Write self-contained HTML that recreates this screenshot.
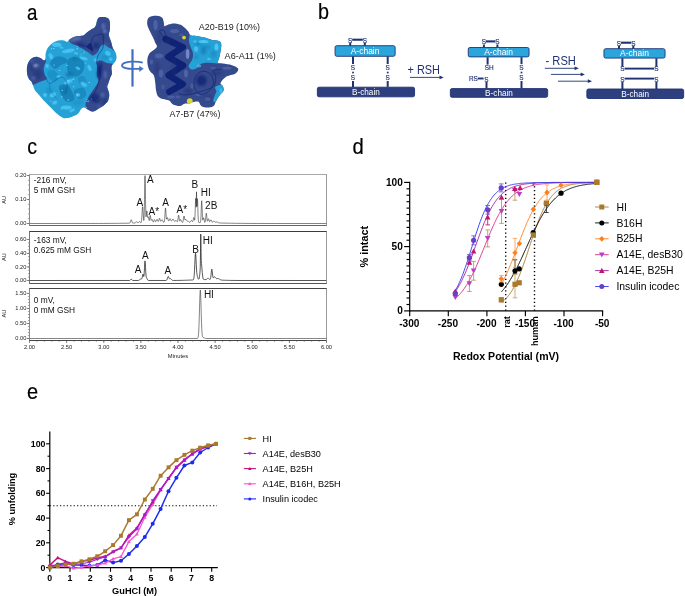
<!DOCTYPE html>
<html lang="en"><head><meta charset="utf-8"><title>Figure</title>
<style>
html,body{margin:0;padding:0;background:#fff;}
body{width:685px;height:596px;overflow:hidden;}
svg{display:block;}
text{font-family:"Liberation Sans", Arial, sans-serif;}
.pl{font-size:21.3px;fill:#000;stroke:#000;stroke-width:0.2px;}
.lab{font-size:9.2px;fill:#1c1c1c;}
.ch{font-size:8.2px;fill:#fff;text-anchor:middle;}
.ss{font-size:6.4px;fill:#1f3272;text-anchor:middle;stroke:#1f3272;stroke-width:0.15px;}
.rsh{font-size:13px;fill:#1f3272;}
.ct{font-size:5.7px;fill:#1c1c1c;}
.cl{font-size:8.35px;fill:#111;}
.cp{font-size:10px;fill:#111;text-anchor:middle;}
.bt{font-size:10.1px;font-weight:bold;fill:#000;}
.bl{font-size:9.6px;font-weight:bold;fill:#000;}
.lg{font-size:10.4px;fill:#000;}
</style></head><body>
<svg width="685" height="596" viewBox="0 0 685 596">
<defs>
<filter id="bl1" x="-100%" y="-100%" width="300%" height="300%"><feGaussianBlur stdDeviation="0.9"/></filter>
<filter id="bl2" x="-20%" y="-20%" width="140%" height="140%"><feGaussianBlur stdDeviation="2.2"/></filter>
<filter id="bl3" x="-100%" y="-100%" width="300%" height="300%"><feGaussianBlur stdDeviation="1.3"/></filter>
<filter id="bl06" x="-50%" y="-50%" width="200%" height="200%"><feGaussianBlur stdDeviation="0.6"/></filter>
<filter id="bl05" x="-30%" y="-30%" width="160%" height="160%"><feGaussianBlur stdDeviation="0.45"/></filter>
</defs>
<rect width="685" height="596" fill="#fff"/>

<text class="pl" transform="translate(27.1,19.5) scale(0.88,1)">a</text>
<text class="pl" transform="translate(317.9,18.7) scale(0.93,1)">b</text>
<text class="pl" transform="translate(27.2,154.0) scale(0.92,1)">c</text>
<text class="pl" transform="translate(352.5,153.9) scale(0.95,1)">d</text>
<text class="pl" transform="translate(27.1,399.4) scale(0.94,1)">e</text>
<g id="blobL">
<clipPath id="clipL"><path d="M96.8,21.6 C97.2,20.5 97.7,18.5 98.7,17.7 C99.8,16.9 101.5,16.9 103.0,16.9 C104.5,17.0 106.7,17.3 107.8,18.1 C108.9,18.9 109.4,20.1 109.8,22.0 C110.1,23.8 110.1,27.1 109.9,29.3 C109.8,31.5 108.6,33.0 108.8,35.1 C109.0,37.2 110.4,39.6 111.1,41.8 C111.8,44.1 112.2,46.7 113.0,48.6 C113.8,50.5 115.3,51.8 115.9,53.4 C116.5,55.0 116.7,56.8 116.5,58.3 C116.3,59.7 115.7,60.9 115.0,62.1 C114.2,63.3 112.5,64.3 111.9,65.4 C111.3,66.5 111.5,67.5 111.5,68.9 C111.5,70.3 112.1,72.2 111.9,73.7 C111.7,75.1 111.0,75.8 110.3,77.6 C109.7,79.3 108.5,82.7 108.0,84.3 C107.5,85.9 107.1,85.9 107.2,87.2 C107.4,88.5 108.5,90.6 108.8,92.0 C109.1,93.5 109.3,94.4 109.2,95.9 C109.0,97.3 108.6,99.5 108.0,100.7 C107.5,101.9 106.7,102.4 105.9,103.2 C105.1,104.1 104.0,105.2 103.0,105.9 C102.0,106.7 100.9,107.1 99.7,107.9 C98.5,108.6 96.9,109.8 95.7,110.4 C94.4,111.0 93.4,111.7 92.0,111.5 C90.6,111.3 88.7,109.9 87.4,109.2 C86.0,108.5 84.8,107.4 83.7,107.5 C82.6,107.5 81.8,108.3 80.8,109.4 C79.8,110.5 79.4,112.6 77.9,113.8 C76.5,115.1 73.9,116.0 72.1,116.7 C70.3,117.4 68.8,117.9 67.3,118.1 C65.7,118.2 64.5,118.3 62.8,117.7 C61.2,117.1 59.1,115.4 57.6,114.2 C56.1,113.1 54.9,111.9 53.8,110.8 C52.6,109.6 51.8,108.6 50.7,107.5 C49.6,106.3 48.3,105.1 47.0,103.8 C45.7,102.5 44.3,101.2 43.0,99.8 C41.7,98.3 40.6,96.8 39.3,95.3 C38.0,93.8 36.3,92.3 35.2,90.7 C34.2,89.1 33.7,87.1 33.1,85.7 C32.5,84.2 32.3,83.0 31.6,81.8 C30.8,80.6 29.4,79.9 28.7,78.5 C27.9,77.2 27.4,75.5 27.1,73.7 C26.9,71.9 26.8,69.7 26.9,67.9 C27.1,66.1 27.5,64.5 28.1,63.1 C28.7,61.6 29.7,60.2 30.6,59.2 C31.6,58.3 32.8,57.7 33.9,57.3 C35.0,56.9 36.2,56.7 37.4,56.9 C38.5,57.1 39.7,57.6 40.8,58.3 C42.0,58.9 43.4,60.6 44.1,60.6 C44.9,60.6 45.2,59.4 45.5,58.3 C45.7,57.1 45.3,55.0 45.7,53.4 C46.0,51.8 46.6,50.1 47.4,48.6 C48.2,47.2 49.3,45.9 50.5,44.7 C51.7,43.6 53.2,42.6 54.7,41.8 C56.3,41.1 58.0,40.5 59.6,40.3 C61.1,40.1 62.7,40.2 64.0,40.5 C65.3,40.8 66.3,42.0 67.3,41.8 C68.3,41.7 68.7,40.1 69.8,39.3 C70.9,38.5 72.5,37.6 74.0,37.0 C75.6,36.5 77.3,36.3 78.9,36.1 C80.4,35.8 82.0,36.0 83.3,35.5 C84.6,34.9 85.4,33.7 86.6,32.8 C87.8,31.8 89.2,30.7 90.4,29.9 C91.7,29.0 93.3,28.7 94.3,27.8 C95.3,26.9 95.8,25.5 96.2,24.5 C96.7,23.4 96.4,22.7 96.8,21.6 Z"/></clipPath>
<g filter="url(#bl05)">
<path d="M96.8,21.6 C97.2,20.5 97.7,18.5 98.7,17.7 C99.8,16.9 101.5,16.9 103.0,16.9 C104.5,17.0 106.7,17.3 107.8,18.1 C108.9,18.9 109.4,20.1 109.8,22.0 C110.1,23.8 110.1,27.1 109.9,29.3 C109.8,31.5 108.6,33.0 108.8,35.1 C109.0,37.2 110.4,39.6 111.1,41.8 C111.8,44.1 112.2,46.7 113.0,48.6 C113.8,50.5 115.3,51.8 115.9,53.4 C116.5,55.0 116.7,56.8 116.5,58.3 C116.3,59.7 115.7,60.9 115.0,62.1 C114.2,63.3 112.5,64.3 111.9,65.4 C111.3,66.5 111.5,67.5 111.5,68.9 C111.5,70.3 112.1,72.2 111.9,73.7 C111.7,75.1 111.0,75.8 110.3,77.6 C109.7,79.3 108.5,82.7 108.0,84.3 C107.5,85.9 107.1,85.9 107.2,87.2 C107.4,88.5 108.5,90.6 108.8,92.0 C109.1,93.5 109.3,94.4 109.2,95.9 C109.0,97.3 108.6,99.5 108.0,100.7 C107.5,101.9 106.7,102.4 105.9,103.2 C105.1,104.1 104.0,105.2 103.0,105.9 C102.0,106.7 100.9,107.1 99.7,107.9 C98.5,108.6 96.9,109.8 95.7,110.4 C94.4,111.0 93.4,111.7 92.0,111.5 C90.6,111.3 88.7,109.9 87.4,109.2 C86.0,108.5 84.8,107.4 83.7,107.5 C82.6,107.5 81.8,108.3 80.8,109.4 C79.8,110.5 79.4,112.6 77.9,113.8 C76.5,115.1 73.9,116.0 72.1,116.7 C70.3,117.4 68.8,117.9 67.3,118.1 C65.7,118.2 64.5,118.3 62.8,117.7 C61.2,117.1 59.1,115.4 57.6,114.2 C56.1,113.1 54.9,111.9 53.8,110.8 C52.6,109.6 51.8,108.6 50.7,107.5 C49.6,106.3 48.3,105.1 47.0,103.8 C45.7,102.5 44.3,101.2 43.0,99.8 C41.7,98.3 40.6,96.8 39.3,95.3 C38.0,93.8 36.3,92.3 35.2,90.7 C34.2,89.1 33.7,87.1 33.1,85.7 C32.5,84.2 32.3,83.0 31.6,81.8 C30.8,80.6 29.4,79.9 28.7,78.5 C27.9,77.2 27.4,75.5 27.1,73.7 C26.9,71.9 26.8,69.7 26.9,67.9 C27.1,66.1 27.5,64.5 28.1,63.1 C28.7,61.6 29.7,60.2 30.6,59.2 C31.6,58.3 32.8,57.7 33.9,57.3 C35.0,56.9 36.2,56.7 37.4,56.9 C38.5,57.1 39.7,57.6 40.8,58.3 C42.0,58.9 43.4,60.6 44.1,60.6 C44.9,60.6 45.2,59.4 45.5,58.3 C45.7,57.1 45.3,55.0 45.7,53.4 C46.0,51.8 46.6,50.1 47.4,48.6 C48.2,47.2 49.3,45.9 50.5,44.7 C51.7,43.6 53.2,42.6 54.7,41.8 C56.3,41.1 58.0,40.5 59.6,40.3 C61.1,40.1 62.7,40.2 64.0,40.5 C65.3,40.8 66.3,42.0 67.3,41.8 C68.3,41.7 68.7,40.1 69.8,39.3 C70.9,38.5 72.5,37.6 74.0,37.0 C75.6,36.5 77.3,36.3 78.9,36.1 C80.4,35.8 82.0,36.0 83.3,35.5 C84.6,34.9 85.4,33.7 86.6,32.8 C87.8,31.8 89.2,30.7 90.4,29.9 C91.7,29.0 93.3,28.7 94.3,27.8 C95.3,26.9 95.8,25.5 96.2,24.5 C96.7,23.4 96.4,22.7 96.8,21.6 Z" fill="#26a1d6"/>
<g clip-path="url(#clipL)">
<path d="M66.3,33.2 C68.6,31.0 79.2,31.2 83.7,29.3 C88.2,27.4 91.1,24.2 93.3,21.6 C95.6,19.0 94.0,15.1 97.2,13.9 C100.4,12.6 109.4,10.3 112.6,13.9 C115.9,17.4 115.7,28.8 116.5,35.1 C117.3,41.4 117.7,48.7 117.5,51.5 C117.3,54.3 116.4,52.4 115.3,51.9 C114.3,51.4 112.4,49.4 111.1,48.6 C109.8,47.8 109.1,47.6 107.8,46.9 C106.6,46.2 104.9,44.4 103.6,44.4 C102.3,44.4 101.1,45.6 100.1,46.9 C99.1,48.1 99.0,50.4 97.8,51.9 C96.6,53.3 94.2,55.4 92.8,55.6 C91.4,55.7 91.0,54.2 89.3,53.0 C87.6,51.9 84.8,50.1 82.5,48.8 C80.3,47.5 78.1,46.4 76.0,45.3 C73.9,44.2 71.6,44.3 70.0,42.2 C68.4,40.2 64.0,35.3 66.3,33.2 Z" fill="#35498d"/>
<path d="M96.8,62.1 C97.5,61.1 99.4,60.4 101.1,60.6 C102.7,60.7 104.4,62.3 106.9,63.1 C109.3,63.8 113.8,63.2 115.5,65.0 C117.3,66.8 117.6,70.0 117.5,73.7 C117.3,77.4 115.1,82.7 114.6,87.2 C114.1,91.7 115.5,96.5 114.6,100.7 C113.6,104.9 111.7,109.7 108.8,112.3 C105.9,114.9 100.7,116.3 97.2,116.2 C93.7,116.0 89.9,113.1 87.9,111.3 C86.0,109.6 85.8,107.3 85.6,105.5 C85.4,103.8 85.9,102.5 86.6,100.7 C87.3,98.9 88.6,97.0 89.9,94.9 C91.2,92.8 92.9,90.4 94.3,88.2 C95.7,85.9 97.8,83.8 98.2,81.4 C98.6,79.0 97.0,76.1 96.8,73.7 C96.7,71.3 97.2,68.9 97.2,66.9 C97.2,65.0 96.2,63.2 96.8,62.1 Z" fill="#35498d"/>
<path d="M23.9,77.6 C23.2,75.0 23.2,71.1 23.9,67.9 C24.5,64.7 26.0,60.5 27.7,58.3 C29.5,56.0 32.3,54.7 34.5,54.4 C36.7,54.1 38.9,55.3 40.8,56.3 C42.7,57.4 45.4,58.6 45.9,60.6 C46.3,62.5 43.9,65.6 43.7,67.9 C43.5,70.3 44.2,72.8 44.7,74.7 C45.2,76.5 47.4,77.9 46.6,79.1 C45.9,80.3 42.6,80.8 40.3,81.8 C38.0,82.8 34.8,84.6 32.7,84.9 C30.6,85.1 29.2,84.6 27.7,83.3 C26.2,82.1 24.5,80.1 23.9,77.6 Z" fill="#35498d"/>
</g></g>
<g clip-path="url(#clipL)">
<ellipse cx="75.0" cy="39.0" rx="5.79" ry="2.32" fill="#6f80b8" opacity="0.55" filter="url(#bl1)" transform="rotate(-15 75.0 39.0)"/>
<path d="M50.1,63.3 C50.2,61.3 53.3,57.9 55.7,57.0 C58.2,56.1 62.7,56.8 64.6,57.6 C66.4,58.5 67.7,60.8 67.1,62.0 C66.4,63.3 62.8,64.0 60.8,65.2 C58.8,66.3 56.9,69.3 55.1,69.0 C53.3,68.7 50.0,65.3 50.1,63.3 Z" fill="#1480b6" opacity="0.8" filter="url(#bl06)"/>
<path d="M68.3,58.9 C70.1,57.2 75.2,57.0 77.8,57.6 C80.4,58.3 83.2,60.4 84.1,62.7 C84.9,65.0 84.1,69.2 82.8,71.5 C81.6,73.8 78.7,76.0 76.5,76.5 C74.3,77.0 71.2,76.1 69.6,74.6 C68.0,73.2 67.3,70.3 67.1,67.7 C66.9,65.1 66.6,60.6 68.3,58.9 Z" fill="#1480b6" opacity="0.85" filter="url(#bl06)"/>
<path d="M58.9,86.6 C59.6,84.6 64.3,83.5 66.4,84.1 C68.5,84.7 70.1,87.9 71.5,90.4 C72.9,92.9 75.4,97.3 74.6,99.2 C73.9,101.1 69.2,102.2 67.1,101.7 C65.0,101.2 63.4,98.6 62.0,96.0 C60.7,93.5 58.2,88.6 58.9,86.6 Z" fill="#1480b6" opacity="0.85" filter="url(#bl06)"/>
<path d="M74.0,90.4 C75.3,88.9 81.5,87.0 83.5,87.9 C85.4,88.7 86.5,93.5 86.0,95.4 C85.4,97.3 82.0,99.0 80.3,99.2 C78.6,99.4 76.9,98.1 75.9,96.7 C74.8,95.2 72.7,91.8 74.0,90.4 Z" fill="#1480b6" opacity="0.7" filter="url(#bl06)"/>
<path d="M47.6,71.5 C48.4,70.2 52.0,69.4 53.9,70.2 C55.7,71.1 58.7,74.6 58.9,76.5 C59.1,78.4 56.8,81.4 55.1,81.6 C53.4,81.8 50.1,79.5 48.8,77.8 C47.6,76.1 46.7,72.7 47.6,71.5 Z" fill="#1480b6" opacity="0.45" filter="url(#bl06)"/>
<path d="M77.8,77.8 C78.2,76.1 82.6,75.7 84.1,76.5 C85.5,77.4 87.0,81.1 86.6,82.8 C86.2,84.5 83.0,87.4 81.6,86.6 C80.1,85.8 77.4,79.5 77.8,77.8 Z" fill="#1480b6" opacity="0.5" filter="url(#bl06)"/>
<ellipse cx="69.2" cy="74.7" rx="3.47" ry="2.70" fill="#0e6a9c" opacity="0.6" filter="url(#bl3)"/>
<ellipse cx="75.0" cy="58.3" rx="2.70" ry="1.93" fill="#0e6a9c" opacity="0.5" filter="url(#bl3)"/>
<ellipse cx="64.8" cy="91.1" rx="3.86" ry="4.63" fill="#0e6a9c" opacity="0.4" filter="url(#bl3)"/>
<ellipse cx="77.9" cy="102.6" rx="5.79" ry="2.70" fill="#1480b6" opacity="0.35" filter="url(#bl3)"/>
<ellipse cx="104.9" cy="57.3" rx="3.86" ry="3.09" fill="#1480b6" opacity="0.35" filter="url(#bl3)"/>
<ellipse cx="49.0" cy="91.1" rx="3.09" ry="3.86" fill="#1480b6" opacity="0.35" filter="url(#bl3)"/>
<ellipse cx="95.7" cy="45.7" rx="4.25" ry="3.09" fill="#0e2174" opacity="0.5" filter="url(#bl3)"/>
<ellipse cx="81.4" cy="44.4" rx="5.79" ry="1.54" fill="#0e2174" opacity="0.5" filter="url(#bl3)" transform="rotate(15 81.4 44.4)"/>
<ellipse cx="99.5" cy="70.8" rx="2.12" ry="7.72" fill="#0e2174" opacity="0.9" filter="url(#bl3)" transform="rotate(8 99.5 70.8)"/>
<ellipse cx="94.9" cy="97.8" rx="4.63" ry="4.25" fill="#0e2174" opacity="0.6" filter="url(#bl3)"/>
<ellipse cx="37.4" cy="74.7" rx="4.63" ry="5.02" fill="#22336f" opacity="0.5" filter="url(#bl3)"/>
<ellipse cx="102.0" cy="37.0" rx="3.09" ry="5.79" fill="#22336f" opacity="0.2" filter="url(#bl3)"/>
<ellipse cx="104.9" cy="102.6" rx="2.70" ry="3.86" fill="#22336f" opacity="0.5" filter="url(#bl3)"/>
<ellipse cx="31.6" cy="67.9" rx="2.32" ry="3.86" fill="#22336f" opacity="0.4" filter="url(#bl3)"/>
<ellipse cx="56.7" cy="44.7" rx="4.67" ry="2.08" fill="#4cc6f6" opacity="0.9" filter="url(#bl06)"/>
<ellipse cx="68.3" cy="50.9" rx="6.37" ry="1.85" fill="#4cc6f6" opacity="0.9" filter="url(#bl06)" transform="rotate(-10 68.3 50.9)"/>
<ellipse cx="83.7" cy="58.3" rx="4.25" ry="1.62" fill="#4cc6f6" opacity="0.9" filter="url(#bl06)" transform="rotate(15 83.7 58.3)"/>
<ellipse cx="50.9" cy="56.3" rx="1.91" ry="3.24" fill="#4cc6f6" opacity="0.9" filter="url(#bl06)" transform="rotate(-25 50.9 56.3)"/>
<ellipse cx="68.3" cy="81.8" rx="4.67" ry="1.85" fill="#4cc6f6" opacity="0.9" filter="url(#bl06)" transform="rotate(-25 68.3 81.8)"/>
<ellipse cx="83.7" cy="84.3" rx="3.40" ry="2.08" fill="#4cc6f6" opacity="0.9" filter="url(#bl06)" transform="rotate(30 83.7 84.3)"/>
<ellipse cx="52.8" cy="94.9" rx="3.40" ry="2.08" fill="#4cc6f6" opacity="0.9" filter="url(#bl06)" transform="rotate(-25 52.8 94.9)"/>
<ellipse cx="66.3" cy="107.5" rx="5.52" ry="2.08" fill="#4cc6f6" opacity="0.9" filter="url(#bl06)"/>
<ellipse cx="107.8" cy="53.4" rx="2.97" ry="2.08" fill="#4cc6f6" opacity="0.9" filter="url(#bl06)" transform="rotate(30 107.8 53.4)"/>
<ellipse cx="95.7" cy="59.8" rx="2.12" ry="1.62" fill="#4cc6f6" opacity="0.9" filter="url(#bl06)" transform="rotate(-25 95.7 59.8)"/>
<ellipse cx="77.9" cy="68.3" rx="2.55" ry="1.39" fill="#4cc6f6" opacity="0.9" filter="url(#bl06)" transform="rotate(30 77.9 68.3)"/>
<ellipse cx="58.6" cy="76.6" rx="2.12" ry="1.39" fill="#4cc6f6" opacity="0.9" filter="url(#bl06)" transform="rotate(-10 58.6 76.6)"/>
<ellipse cx="47.0" cy="66.0" rx="1.70" ry="2.32" fill="#4cc6f6" opacity="0.9" filter="url(#bl06)" transform="rotate(-25 47.0 66.0)"/>
<ellipse cx="89.5" cy="67.9" rx="1.70" ry="3.24" fill="#4cc6f6" opacity="0.9" filter="url(#bl06)" transform="rotate(-25 89.5 67.9)"/>
<ellipse cx="61.5" cy="47.6" rx="2.12" ry="1.16" fill="#4cc6f6" opacity="0.9" filter="url(#bl06)" transform="rotate(15 61.5 47.6)"/>
<ellipse cx="76.0" cy="53.4" rx="2.12" ry="1.16" fill="#4cc6f6" opacity="0.9" filter="url(#bl06)" transform="rotate(15 76.0 53.4)"/>
<ellipse cx="54.7" cy="102.6" rx="2.55" ry="1.85" fill="#4cc6f6" opacity="0.9" filter="url(#bl06)" transform="rotate(-25 54.7 102.6)"/>
<ellipse cx="77.9" cy="94.9" rx="2.12" ry="1.85" fill="#4cc6f6" opacity="0.9" filter="url(#bl06)" transform="rotate(-10 77.9 94.9)"/>
<ellipse cx="72.1" cy="110.4" rx="2.97" ry="1.39" fill="#4cc6f6" opacity="0.9" filter="url(#bl06)" transform="rotate(-25 72.1 110.4)"/>
<ellipse cx="45.1" cy="94.9" rx="2.12" ry="1.85" fill="#4cc6f6" opacity="0.9" filter="url(#bl06)" transform="rotate(30 45.1 94.9)"/>
<ellipse cx="87.6" cy="100.7" rx="1.70" ry="1.39" fill="#4cc6f6" opacity="0.9" filter="url(#bl06)" transform="rotate(15 87.6 100.7)"/>
<ellipse cx="110.7" cy="59.2" rx="1.70" ry="1.85" fill="#4cc6f6" opacity="0.9" filter="url(#bl06)" transform="rotate(-25 110.7 59.2)"/>
<ellipse cx="84.1" cy="52.9" rx="0.67" ry="0.66" fill="#8fe6ff" opacity="0.7" filter="url(#bl05)"/>
<ellipse cx="89.2" cy="82.6" rx="0.73" ry="0.77" fill="#8fe6ff" opacity="0.7" filter="url(#bl05)"/>
<ellipse cx="50.9" cy="101.1" rx="0.69" ry="0.52" fill="#8fe6ff" opacity="0.7" filter="url(#bl05)"/>
<ellipse cx="54.0" cy="65.0" rx="0.89" ry="0.53" fill="#8fe6ff" opacity="0.7" filter="url(#bl05)"/>
<ellipse cx="73.6" cy="86.7" rx="0.72" ry="0.64" fill="#8fe6ff" opacity="0.7" filter="url(#bl05)"/>
<ellipse cx="51.6" cy="48.7" rx="0.66" ry="0.68" fill="#8fe6ff" opacity="0.7" filter="url(#bl05)"/>
<ellipse cx="67.1" cy="65.4" rx="0.81" ry="0.61" fill="#8fe6ff" opacity="0.7" filter="url(#bl05)"/>
<ellipse cx="61.7" cy="96.9" rx="0.85" ry="0.55" fill="#8fe6ff" opacity="0.7" filter="url(#bl05)"/>
<ellipse cx="73.3" cy="79.2" rx="0.92" ry="0.69" fill="#8fe6ff" opacity="0.7" filter="url(#bl05)"/>
<ellipse cx="61.2" cy="109.1" rx="0.62" ry="0.60" fill="#8fe6ff" opacity="0.7" filter="url(#bl05)"/>
<ellipse cx="81.1" cy="54.7" rx="0.77" ry="0.49" fill="#8fe6ff" opacity="0.7" filter="url(#bl05)"/>
<ellipse cx="77.3" cy="94.9" rx="0.80" ry="0.74" fill="#8fe6ff" opacity="0.7" filter="url(#bl05)"/>
<ellipse cx="62.3" cy="90.4" rx="0.81" ry="0.65" fill="#8fe6ff" opacity="0.7" filter="url(#bl05)"/>
<ellipse cx="68.3" cy="99.9" rx="0.94" ry="0.62" fill="#8fe6ff" opacity="0.7" filter="url(#bl05)"/>
<ellipse cx="77.2" cy="48.7" rx="0.85" ry="0.67" fill="#8fe6ff" opacity="0.7" filter="url(#bl05)"/>
<ellipse cx="91.1" cy="98.7" rx="0.69" ry="0.59" fill="#8fe6ff" opacity="0.7" filter="url(#bl05)"/>
<ellipse cx="77.3" cy="46.2" rx="0.76" ry="0.53" fill="#8fe6ff" opacity="0.7" filter="url(#bl05)"/>
<ellipse cx="53.9" cy="48.6" rx="0.88" ry="0.52" fill="#8fe6ff" opacity="0.7" filter="url(#bl05)"/>
<ellipse cx="59.5" cy="70.4" rx="0.92" ry="0.51" fill="#8fe6ff" opacity="0.7" filter="url(#bl05)"/>
<ellipse cx="68.0" cy="80.8" rx="0.92" ry="0.72" fill="#8fe6ff" opacity="0.7" filter="url(#bl05)"/>
<ellipse cx="85.6" cy="63.0" rx="0.74" ry="0.59" fill="#8fe6ff" opacity="0.7" filter="url(#bl05)"/>
<ellipse cx="86.5" cy="107.6" rx="0.64" ry="0.53" fill="#8fe6ff" opacity="0.7" filter="url(#bl05)"/>
<ellipse cx="103.4" cy="26.4" rx="1.74" ry="3.47" fill="#5d73b8" opacity="0.85" filter="url(#bl1)"/>
<ellipse cx="104.9" cy="31.2" rx="1.35" ry="1.54" fill="#8f9fe0" opacity="0.8" filter="url(#bl1)"/>
<ellipse cx="90.4" cy="45.7" rx="2.32" ry="2.32" fill="#5d73b8" opacity="0.7" filter="url(#bl1)"/>
<ellipse cx="35.8" cy="65.6" rx="2.70" ry="1.35" fill="#a3aeea" opacity="0.9" filter="url(#bl1)"/>
<ellipse cx="33.5" cy="77.9" rx="1.93" ry="1.93" fill="#5d73b8" opacity="0.7" filter="url(#bl1)"/>
<ellipse cx="105.3" cy="74.7" rx="1.54" ry="4.25" fill="#5d73b8" opacity="0.7" filter="url(#bl1)"/>
<ellipse cx="102.6" cy="94.9" rx="1.93" ry="2.70" fill="#5d73b8" opacity="0.7" filter="url(#bl1)"/>
<ellipse cx="77.9" cy="38.6" rx="3.47" ry="1.16" fill="#5d73b8" opacity="0.5" filter="url(#bl1)"/>
<ellipse cx="105.9" cy="44.7" rx="1.54" ry="1.93" fill="#5d73b8" opacity="0.5" filter="url(#bl1)"/>
<ellipse cx="31.6" cy="61.1" rx="1.93" ry="1.54" fill="#5d73b8" opacity="0.5" filter="url(#bl1)"/>
<ellipse cx="107.8" cy="86.2" rx="1.16" ry="1.93" fill="#5d73b8" opacity="0.6" filter="url(#bl1)"/>
<ellipse cx="99.1" cy="106.5" rx="2.32" ry="1.16" fill="#5d73b8" opacity="0.5" filter="url(#bl1)"/>
<path d="M77.9,44.4 C79.4,44.7 84.4,46.9 86.6,46.7 C88.8,46.4 90.0,44.4 91.0,42.8 C92.1,41.2 91.8,38.4 93.0,37.0 C94.1,35.7 96.5,35.1 98.2,34.7 C99.8,34.3 102.1,33.7 103.0,34.7 C103.9,35.7 103.4,38.6 103.4,40.9 C103.3,43.2 103.5,46.2 102.6,48.6 C101.7,51.0 99.1,52.9 98.2,55.4 C97.2,57.8 96.5,60.0 96.8,63.1 C97.2,66.1 100.0,70.3 100.3,73.7 C100.6,77.1 99.3,80.1 98.4,83.3 C97.4,86.6 95.9,90.4 94.5,93.0 C93.1,95.6 91.2,97.9 89.9,99.2 C88.6,100.5 86.5,100.9 86.8,100.7 C87.1,100.5 90.3,97.8 91.8,98.0 C93.3,98.3 94.6,101.9 96.0,102.3 C97.5,102.6 99.6,100.3 100.3,99.9" fill="none" stroke="#0e2174" stroke-width="0.6" opacity="0.95"/>
<path d="M86.6,46.7 C86.8,45.5 89.9,42.0 91.0,42.8 C92.2,43.6 93.5,50.4 93.3,51.5 C93.2,52.6 91.0,50.4 89.9,49.6 C88.7,48.8 86.4,47.8 86.6,46.7 Z" fill="#0e2174" opacity="0.9"/>
<path d="M37.0,66.0 C37.7,66.9 39.7,69.8 41.2,71.8 C42.7,73.7 44.8,75.6 46.1,77.6 C47.3,79.5 47.7,82.7 49.0,83.3 C50.2,84.0 52.0,82.4 53.8,81.4 C55.5,80.4 57.8,78.0 59.6,77.6 C61.3,77.1 63.1,77.2 64.4,78.5 C65.7,79.8 67.1,82.9 67.3,85.3 C67.4,87.7 65.7,91.7 65.4,93.0" fill="none" stroke="#124a96" stroke-width="0.5" opacity="0.85"/>
<path d="M49.0,83.3 C49.3,84.6 49.6,88.5 50.9,91.1 C52.2,93.6 55.7,97.5 56.7,98.8" fill="none" stroke="#14609a" stroke-width="0.5" opacity="0.7"/>
</g></g>
<g id="blobR">
<clipPath id="clipR"><path d="M147.7,19.2 C148.2,17.7 149.2,17.0 150.7,16.4 C152.2,15.8 155.0,15.6 156.9,15.8 C158.8,16.0 161.0,16.6 162.2,17.7 C163.3,18.8 163.4,20.9 163.8,22.3 C164.2,23.7 163.7,25.7 164.5,26.1 C165.3,26.5 166.9,25.0 168.4,24.6 C169.9,24.2 171.8,23.5 173.7,23.5 C175.6,23.5 178.1,23.9 179.9,24.6 C181.7,25.3 183.1,26.5 184.5,27.6 C185.9,28.8 187.3,30.2 188.3,31.5 C189.3,32.8 189.2,34.5 190.6,35.3 C192.0,36.1 194.4,35.7 196.7,36.1 C199.0,36.5 201.8,37.0 204.4,37.6 C207.0,38.2 209.7,39.4 212.0,39.9 C214.3,40.4 216.7,40.1 218.2,40.7 C219.7,41.3 220.8,41.9 221.2,43.7 C221.6,45.5 220.9,48.9 220.5,51.4 C220.1,53.9 219.4,57.1 218.9,59.0 C218.4,60.9 216.8,61.7 217.5,62.5 C218.2,63.3 220.4,63.1 222.8,63.6 C225.2,64.0 229.4,64.4 232.0,65.2 C234.6,66.0 237.5,67.2 238.1,68.6 C238.7,70.0 237.6,72.1 235.5,73.5 C233.4,74.9 228.3,75.3 225.8,76.9 C223.3,78.5 221.0,81.5 220.5,83.0 C220.0,84.5 222.3,84.7 222.8,86.0 C223.3,87.3 224.0,89.2 223.5,90.7 C223.0,92.2 221.0,93.5 219.7,95.3 C218.4,97.1 216.9,99.6 215.9,101.4 C214.9,103.2 215.0,105.0 213.6,106.0 C212.2,107.0 209.4,107.5 207.4,107.5 C205.4,107.5 202.8,107.0 201.3,106.0 C199.8,105.0 199.6,102.2 198.2,101.6 C196.8,101.0 194.3,101.9 192.9,102.2 C191.5,102.5 190.9,103.2 189.5,103.5 C188.1,103.8 186.1,103.3 184.5,103.7 C182.9,104.1 181.8,105.9 179.9,106.0 C178.0,106.1 174.8,105.4 173.0,104.5 C171.2,103.6 170.8,101.5 169.1,100.6 C167.4,99.7 164.8,99.7 163.0,99.1 C161.2,98.5 159.6,98.2 158.4,96.8 C157.2,95.4 156.6,93.0 156.1,90.7 C155.6,88.4 155.7,85.6 155.3,83.0 C154.9,80.4 154.7,77.2 153.8,75.3 C152.9,73.3 151.0,73.0 150.0,71.3 C149.0,69.6 148.1,67.2 147.7,65.2 C147.3,63.2 147.2,60.9 147.4,59.0 C147.7,57.1 148.3,55.1 149.2,53.7 C150.1,52.3 151.7,51.8 153.0,50.6 C154.3,49.5 156.5,48.1 156.9,46.8 C157.3,45.5 156.0,44.5 155.3,43.0 C154.7,41.5 153.9,39.5 153.0,37.6 C152.1,35.7 150.9,33.5 150.0,31.5 C149.1,29.4 147.8,27.4 147.4,25.3 C147.0,23.2 147.1,20.7 147.7,19.2 Z"/></clipPath>
<g filter="url(#bl05)">
<path d="M147.7,19.2 C148.2,17.7 149.2,17.0 150.7,16.4 C152.2,15.8 155.0,15.6 156.9,15.8 C158.8,16.0 161.0,16.6 162.2,17.7 C163.3,18.8 163.4,20.9 163.8,22.3 C164.2,23.7 163.7,25.7 164.5,26.1 C165.3,26.5 166.9,25.0 168.4,24.6 C169.9,24.2 171.8,23.5 173.7,23.5 C175.6,23.5 178.1,23.9 179.9,24.6 C181.7,25.3 183.1,26.5 184.5,27.6 C185.9,28.8 187.3,30.2 188.3,31.5 C189.3,32.8 189.2,34.5 190.6,35.3 C192.0,36.1 194.4,35.7 196.7,36.1 C199.0,36.5 201.8,37.0 204.4,37.6 C207.0,38.2 209.7,39.4 212.0,39.9 C214.3,40.4 216.7,40.1 218.2,40.7 C219.7,41.3 220.8,41.9 221.2,43.7 C221.6,45.5 220.9,48.9 220.5,51.4 C220.1,53.9 219.4,57.1 218.9,59.0 C218.4,60.9 216.8,61.7 217.5,62.5 C218.2,63.3 220.4,63.1 222.8,63.6 C225.2,64.0 229.4,64.4 232.0,65.2 C234.6,66.0 237.5,67.2 238.1,68.6 C238.7,70.0 237.6,72.1 235.5,73.5 C233.4,74.9 228.3,75.3 225.8,76.9 C223.3,78.5 221.0,81.5 220.5,83.0 C220.0,84.5 222.3,84.7 222.8,86.0 C223.3,87.3 224.0,89.2 223.5,90.7 C223.0,92.2 221.0,93.5 219.7,95.3 C218.4,97.1 216.9,99.6 215.9,101.4 C214.9,103.2 215.0,105.0 213.6,106.0 C212.2,107.0 209.4,107.5 207.4,107.5 C205.4,107.5 202.8,107.0 201.3,106.0 C199.8,105.0 199.6,102.2 198.2,101.6 C196.8,101.0 194.3,101.9 192.9,102.2 C191.5,102.5 190.9,103.2 189.5,103.5 C188.1,103.8 186.1,103.3 184.5,103.7 C182.9,104.1 181.8,105.9 179.9,106.0 C178.0,106.1 174.8,105.4 173.0,104.5 C171.2,103.6 170.8,101.5 169.1,100.6 C167.4,99.7 164.8,99.7 163.0,99.1 C161.2,98.5 159.6,98.2 158.4,96.8 C157.2,95.4 156.6,93.0 156.1,90.7 C155.6,88.4 155.7,85.6 155.3,83.0 C154.9,80.4 154.7,77.2 153.8,75.3 C152.9,73.3 151.0,73.0 150.0,71.3 C149.0,69.6 148.1,67.2 147.7,65.2 C147.3,63.2 147.2,60.9 147.4,59.0 C147.7,57.1 148.3,55.1 149.2,53.7 C150.1,52.3 151.7,51.8 153.0,50.6 C154.3,49.5 156.5,48.1 156.9,46.8 C157.3,45.5 156.0,44.5 155.3,43.0 C154.7,41.5 153.9,39.5 153.0,37.6 C152.1,35.7 150.9,33.5 150.0,31.5 C149.1,29.4 147.8,27.4 147.4,25.3 C147.0,23.2 147.1,20.7 147.7,19.2 Z" fill="#35498d"/>
<g clip-path="url(#clipR)">
<path d="M190.6,34.0 C191.9,32.7 194.3,33.0 196.7,33.0 C199.1,33.0 202.1,33.5 205.0,34.0 C207.9,34.5 211.2,35.3 214.0,36.0 C216.8,36.7 220.0,36.7 222.0,38.0 C224.0,39.3 225.7,41.7 226.0,44.0 C226.3,46.3 224.7,49.5 224.0,52.0 C223.3,54.5 222.8,57.1 222.0,59.0 C221.2,60.9 220.7,62.5 219.0,63.2 C217.3,63.9 214.4,63.0 212.0,63.0 C209.6,63.0 206.4,62.7 204.4,63.0 C202.4,63.3 201.2,63.7 199.8,64.6 C198.4,65.5 197.6,67.8 196.2,68.6 C194.8,69.4 192.7,69.8 191.4,69.4 C190.1,69.0 188.8,67.4 188.6,66.4 C188.4,65.4 189.4,64.4 190.0,63.2 C190.6,62.0 191.9,60.7 192.4,59.0 C192.9,57.3 193.2,54.9 192.9,52.9 C192.6,50.9 191.2,48.8 190.6,46.8 C189.9,44.8 189.0,42.8 189.0,40.7 C189.0,38.6 189.3,35.3 190.6,34.0 Z" fill="#26a1d6"/>
<path d="M215.0,87.5 C215.4,86.5 217.2,85.5 219.0,85.2 C220.8,85.0 224.8,84.9 226.0,86.0 C227.2,87.1 226.8,90.2 226.0,92.0 C225.2,93.8 222.5,95.3 221.0,97.0 C219.5,98.7 218.3,101.3 217.0,102.0 C215.7,102.7 213.5,102.2 213.2,101.0 C212.9,99.8 214.4,96.7 215.0,95.0 C215.6,93.3 216.5,92.2 216.5,91.0 C216.5,89.8 214.6,88.5 215.0,87.5 Z" fill="#26a1d6"/>
<circle cx="184.0" cy="37.6" r="1.9" fill="#d6d832"/>
<circle cx="189.8" cy="101.2" r="2.9" fill="#d6d832"/>
</g></g>
<g clip-path="url(#clipR)">
<path d="M165.5,39.0 L182.8,47.1 L168.2,56.9 L183.2,65.6 L168.6,75.2 L182.8,84.1 L169.3,91.8" fill="none" stroke="#0e2174" stroke-width="6.4" stroke-linejoin="round" stroke-linecap="round" opacity="0.95" filter="url(#bl05)"/>
<ellipse cx="201.5" cy="80.5" rx="5.2" ry="5.2" fill="#0e2174" opacity="0.75" filter="url(#bl3)"/>
<ellipse cx="203.5" cy="50" rx="2.8" ry="4.6" fill="#1480b6" opacity="0.8" filter="url(#bl3)"/>
<ellipse cx="198" cy="44" rx="3" ry="2" fill="#1480b6" opacity="0.6" filter="url(#bl3)"/>
<ellipse cx="213.5" cy="54" rx="2.4" ry="3.6" fill="#1480b6" opacity="0.55" filter="url(#bl3)"/>
<ellipse cx="208" cy="47" rx="2" ry="2.6" fill="#1480b6" opacity="0.5" filter="url(#bl3)"/>
<ellipse cx="196" cy="57" rx="2.4" ry="2.4" fill="#1480b6" opacity="0.5" filter="url(#bl3)"/>
<ellipse cx="157" cy="68" rx="2.6" ry="6" fill="#22336f" opacity="0.4" filter="url(#bl3)"/>
<ellipse cx="188" cy="91" rx="4" ry="3" fill="#22336f" opacity="0.5" filter="url(#bl3)"/>
<ellipse cx="159" cy="38" rx="2.6" ry="6" fill="#22336f" opacity="0.35" filter="url(#bl3)"/>
<ellipse cx="217" cy="73" rx="6" ry="2" fill="#22336f" opacity="0.4" filter="url(#bl3)"/>
<ellipse cx="174" cy="68" rx="2" ry="11" fill="#22336f" opacity="0.3" filter="url(#bl3)"/>
<ellipse cx="168" cy="40" rx="3" ry="4" fill="#22336f" opacity="0.3" filter="url(#bl3)"/>
<ellipse cx="208" cy="98" rx="4" ry="3" fill="#22336f" opacity="0.35" filter="url(#bl3)"/>
<ellipse cx="155.5" cy="25" rx="2.2" ry="5" fill="#5d73b8" opacity="0.6" filter="url(#bl06)"/>
<ellipse cx="159" cy="56" rx="4" ry="2.4" fill="#5d73b8" opacity="0.6" filter="url(#bl06)"/>
<ellipse cx="161" cy="73.5" rx="2.4" ry="4" fill="#5d73b8" opacity="0.55" filter="url(#bl06)"/>
<ellipse cx="174.5" cy="31" rx="4.6" ry="2" fill="#5d73b8" opacity="0.55" filter="url(#bl06)"/>
<ellipse cx="187.6" cy="54" rx="1.8" ry="5" fill="#7c92d8" opacity="0.85" filter="url(#bl06)"/>
<ellipse cx="186" cy="73.5" rx="2" ry="4" fill="#5d73b8" opacity="0.65" filter="url(#bl06)"/>
<ellipse cx="171" cy="97" rx="4" ry="1.6" fill="#5d73b8" opacity="0.5" filter="url(#bl06)"/>
<ellipse cx="227" cy="68" rx="4.6" ry="1.6" fill="#5d73b8" opacity="0.55" filter="url(#bl06)"/>
<ellipse cx="207.5" cy="99" rx="3" ry="2" fill="#5d73b8" opacity="0.5" filter="url(#bl06)"/>
<ellipse cx="192" cy="86" rx="1.6" ry="2.8" fill="#5d73b8" opacity="0.5" filter="url(#bl06)"/>
<ellipse cx="151.5" cy="62" rx="1.6" ry="2.8" fill="#5d73b8" opacity="0.5" filter="url(#bl06)"/>
<ellipse cx="165" cy="25.5" rx="2" ry="1.6" fill="#5d73b8" opacity="0.4" filter="url(#bl06)"/>
<ellipse cx="181.5" cy="35" rx="2.4" ry="1.2" fill="#5d73b8" opacity="0.4" filter="url(#bl06)"/>
<ellipse cx="213" cy="68" rx="2.8" ry="1.2" fill="#5d73b8" opacity="0.4" filter="url(#bl06)"/>
<ellipse cx="198" cy="95" rx="2.8" ry="1.2" fill="#5d73b8" opacity="0.4" filter="url(#bl06)"/>
<ellipse cx="163" cy="87" rx="1.6" ry="2.4" fill="#5d73b8" opacity="0.4" filter="url(#bl06)"/>
<ellipse cx="152" cy="40" rx="1.4" ry="3" fill="#5d73b8" opacity="0.4" filter="url(#bl06)"/>
<ellipse cx="178" cy="97" rx="2.4" ry="1.4" fill="#5d73b8" opacity="0.45" filter="url(#bl06)"/>
<ellipse cx="203.5" cy="41.5" rx="5" ry="1.6" fill="#55ccfa" opacity="0.85" filter="url(#bl06)"/>
<ellipse cx="216.5" cy="47" rx="2" ry="3.6" fill="#55ccfa" opacity="0.85" filter="url(#bl06)"/>
<ellipse cx="196" cy="49" rx="2" ry="2.8" fill="#55ccfa" opacity="0.7" filter="url(#bl06)"/>
<ellipse cx="221" cy="91" rx="1.2" ry="3" fill="#55ccfa" opacity="0.6" filter="url(#bl06)"/>
<ellipse cx="209" cy="59" rx="2" ry="1.2" fill="#55ccfa" opacity="0.6" filter="url(#bl06)"/>
<ellipse cx="195" cy="41.5" rx="2" ry="1.2" fill="#55ccfa" opacity="0.6" filter="url(#bl06)"/>
<ellipse cx="199" cy="66" rx="2.4" ry="1.4" fill="#55ccfa" opacity="0.6" filter="url(#bl06)"/>
<path d="M166.1,39.9 C165.3,39.0 162.5,36.0 161.5,34.5 C160.4,33.1 159.4,31.9 159.6,31.2 C159.9,30.4 162.0,29.6 163.0,29.9 C163.9,30.2 164.7,31.6 165.3,33.0 C165.9,34.4 166.6,37.5 166.8,38.4" fill="none" stroke="#0e2174" stroke-width="0.6"/>
<path d="M196.0,75.5 C197.6,73.0 201.1,71.4 203.6,71.3 C206.1,71.2 209.2,72.6 210.8,74.7 C212.5,76.8 214.0,81.0 213.5,83.9 C213.0,86.8 209.9,90.3 207.7,92.0 C205.4,93.7 202.2,95.2 200.0,94.3 C197.8,93.4 194.9,89.7 194.2,86.6 C193.5,83.5 194.4,78.0 196.0,75.5 Z" fill="none" stroke="#0e2174" stroke-width="0.6"/>
<path d="M178.6,93.9 C179.9,94.1 183.1,95.2 186.3,94.9 C189.5,94.7 193.5,93.8 197.9,92.4 C202.3,91.0 210.0,89.2 213.0,86.6 C216.0,84.0 215.6,79.2 215.7,76.6 C215.8,74.0 212.4,72.0 213.3,70.8 C214.2,69.6 219.7,69.5 221.0,69.3" fill="none" stroke="#0e2174" stroke-width="0.6"/>
</g></g>
<g stroke="#3f6ec2" fill="none"><line x1="132.5" y1="49.2" x2="132.5" y2="86.6" stroke-width="2.2"/><path d="M142.7,62.6 C139,61.6 135,61.5 131.6,61.7 C127.5,62 124.5,62.8 123.3,63.6 C121.6,64.6 121.6,66.2 123.3,67.2 C125,68.2 128.5,68.8 131.6,68.9 L139.8,68.9" stroke-width="1.8"/><path d="M139.4,66.2 L143.4,68.7 L139.4,71.5 Z" fill="#3f6ec2" stroke-width="0.4"/></g>
<text class="lab" x="198.8" y="30.2" textLength="61.2" lengthAdjust="spacingAndGlyphs">A20-B19 (10%)</text>
<text class="lab" x="224.6" y="58.6" textLength="51.2" lengthAdjust="spacingAndGlyphs">A6-A11 (1%)</text>
<text class="lab" x="169.5" y="116.8" textLength="51" lengthAdjust="spacingAndGlyphs">A7-B7 (47%)</text>
<text class="ss" x="350.2" y="42.5">S</text>
<text class="ss" x="364.8" y="42.5">S</text>
<line x1="352.2" y1="39.7" x2="362.8" y2="39.7" stroke="#1f3272" stroke-width="2.1"/>
<line x1="350.2" y1="42.800000000000004" x2="350.2" y2="45.8" stroke="#1f3272" stroke-width="2.0"/>
<line x1="364.8" y1="42.800000000000004" x2="364.8" y2="45.8" stroke="#1f3272" stroke-width="2.0"/>
<line x1="353" y1="56.3" x2="353" y2="64.0" stroke="#1f3272" stroke-width="2.0"/>
<text class="ss" x="353" y="69.5">S</text>
<text class="ss" x="353" y="80.1">S</text>
<rect x="352.15" y="71.7" width="1.7" height="1.7" fill="#1f3272"/>
<line x1="353" y1="81.0" x2="353" y2="86.9" stroke="#1f3272" stroke-width="2.0"/>
<line x1="387.7" y1="56.3" x2="387.7" y2="64.0" stroke="#1f3272" stroke-width="2.0"/>
<text class="ss" x="387.7" y="69.5">S</text>
<text class="ss" x="387.7" y="80.1">S</text>
<rect x="386.84999999999997" y="71.7" width="1.7" height="1.7" fill="#1f3272"/>
<line x1="387.7" y1="81.0" x2="387.7" y2="86.9" stroke="#1f3272" stroke-width="2.0"/>
<rect x="335.05" y="45.70" width="60.10" height="10.60" rx="1.7" fill="#2aa6dc" stroke="#1f3272" stroke-width="0.9"/>
<text class="ch" x="365.1" y="53.9" textLength="28.8" lengthAdjust="spacingAndGlyphs">A-chain</text>
<rect x="317.35" y="87.20" width="97.20" height="9.60" rx="1.7" fill="#2d3f7f" stroke="#1f3272" stroke-width="0.9"/>
<text class="ch" x="365.9" y="94.9" textLength="27.8" lengthAdjust="spacingAndGlyphs">B-chain</text>
<text class="rsh" x="407.5" y="74.4" textLength="32.5" lengthAdjust="spacingAndGlyphs">+ RSH</text>
<line x1="409.9" y1="77.4" x2="441.2" y2="77.4" stroke="#1f3272" stroke-width="0.9"/>
<path d="M443.7,77.4 L439.5,75.5 L439.5,79.30000000000001 Z" fill="#1f3272"/>
<text class="ss" x="483.9" y="44.2">S</text>
<text class="ss" x="497.4" y="44.2">S</text>
<line x1="485.9" y1="41.4" x2="495.4" y2="41.4" stroke="#1f3272" stroke-width="2.1"/>
<line x1="483.9" y1="44.5" x2="483.9" y2="47.2" stroke="#1f3272" stroke-width="2.0"/>
<line x1="497.4" y1="44.5" x2="497.4" y2="47.2" stroke="#1f3272" stroke-width="2.0"/>
<line x1="487.6" y1="57.2" x2="487.6" y2="64.6" stroke="#1f3272" stroke-width="2.0"/>
<text class="ss" x="489.3" y="70.0">SH</text>
<text class="ss" x="473.4" y="80.8">RS</text>
<line x1="477.8" y1="78.5" x2="483.6" y2="78.5" stroke="#1f3272" stroke-width="1.9"/>
<text class="ss" x="486.3" y="81.5">S</text>
<line x1="486.5" y1="81.8" x2="486.5" y2="88.3" stroke="#1f3272" stroke-width="2.0"/>
<line x1="521.5" y1="57.2" x2="521.5" y2="64.1" stroke="#1f3272" stroke-width="2.0"/>
<text class="ss" x="521.5" y="69.6">S</text>
<text class="ss" x="521.5" y="80.1">S</text>
<rect x="520.65" y="71.7" width="1.7" height="1.7" fill="#1f3272"/>
<line x1="521.5" y1="81.0" x2="521.5" y2="88.3" stroke="#1f3272" stroke-width="2.0"/>
<rect x="468.25" y="47.50" width="60.80" height="9.40" rx="1.7" fill="#2aa6dc" stroke="#1f3272" stroke-width="0.9"/>
<text class="ch" x="498.6" y="55.1" textLength="28.8" lengthAdjust="spacingAndGlyphs">A-chain</text>
<rect x="450.35" y="88.60" width="97.30" height="8.70" rx="1.7" fill="#2d3f7f" stroke="#1f3272" stroke-width="0.9"/>
<text class="ch" x="499.0" y="95.8" textLength="27.8" lengthAdjust="spacingAndGlyphs">B-chain</text>
<text class="rsh" x="545.5" y="65.2" textLength="30.4" lengthAdjust="spacingAndGlyphs">- RSH</text>
<line x1="544.8" y1="68.3" x2="576.3" y2="68.3" stroke="#1f3272" stroke-width="0.9"/>
<path d="M578.8,68.3 L574.5999999999999,66.39999999999999 L574.5999999999999,70.2 Z" fill="#1f3272"/>
<line x1="550.9" y1="74.4" x2="582.4" y2="74.4" stroke="#1f3272" stroke-width="0.9"/>
<path d="M584.9,74.4 L580.6999999999999,72.5 L580.6999999999999,76.30000000000001 Z" fill="#1f3272"/>
<line x1="558" y1="81.2" x2="589.5" y2="81.2" stroke="#1f3272" stroke-width="0.9"/>
<path d="M592,81.2 L587.8,79.3 L587.8,83.10000000000001 Z" fill="#1f3272"/>
<text class="ss" x="619" y="45.5">S</text>
<text class="ss" x="633.3" y="45.5">S</text>
<line x1="621.0" y1="42.7" x2="631.3" y2="42.7" stroke="#1f3272" stroke-width="2.1"/>
<line x1="619" y1="45.800000000000004" x2="619" y2="49" stroke="#1f3272" stroke-width="2.0"/>
<line x1="633.3" y1="45.800000000000004" x2="633.3" y2="49" stroke="#1f3272" stroke-width="2.0"/>
<line x1="622.4" y1="58.3" x2="622.4" y2="66.6" stroke="#1f3272" stroke-width="2.0"/>
<line x1="656.4" y1="58.3" x2="656.4" y2="66.6" stroke="#1f3272" stroke-width="2.0"/>
<text class="ss" x="622.4" y="71.2">S</text>
<text class="ss" x="656.4" y="71.2">S</text>
<line x1="624.6" y1="68.6" x2="654.2" y2="68.6" stroke="#1f3272" stroke-width="1.9"/>
<text class="ss" x="622.4" y="81.9">S</text>
<text class="ss" x="656.4" y="81.9">S</text>
<line x1="624.6" y1="78.6" x2="654.2" y2="78.6" stroke="#1f3272" stroke-width="1.9"/>
<line x1="622.4" y1="81.9" x2="622.4" y2="89.4" stroke="#1f3272" stroke-width="2.0"/>
<line x1="656.4" y1="81.9" x2="656.4" y2="89.4" stroke="#1f3272" stroke-width="2.0"/>
<rect x="603.95" y="48.70" width="61.10" height="9.40" rx="1.7" fill="#2aa6dc" stroke="#1f3272" stroke-width="0.9"/>
<text class="ch" x="634.5" y="56.3" textLength="28.8" lengthAdjust="spacingAndGlyphs">A-chain</text>
<rect x="586.85" y="89.00" width="96.80" height="9.50" rx="1.7" fill="#2d3f7f" stroke="#1f3272" stroke-width="0.9"/>
<text class="ch" x="635.2" y="96.7" textLength="27.8" lengthAdjust="spacingAndGlyphs">B-chain</text>
<line x1="29.0" y1="174.5" x2="327.0" y2="174.5" stroke="#a8a8a8" stroke-width="1"/>
<line x1="29.0" y1="225.5" x2="327.0" y2="225.5" stroke="#666" stroke-width="1"/>
<line x1="29.5" y1="174.5" x2="29.5" y2="225.5" stroke="#8a8a8a" stroke-width="1"/>
<line x1="326.5" y1="174.5" x2="326.5" y2="225.5" stroke="#9a9a9a" stroke-width="1"/>
<clipPath id="cp174"><rect x="29.5" y="175.0" width="297.0" height="50.0"/></clipPath>
<path d="M29.50,223.50 L90.50,223.48 L98.25,223.46 L103.25,223.44 L107.00,223.42 L110.25,223.40 L113.00,223.37 L115.50,223.35 L117.75,223.33 L119.75,223.31 L121.50,223.29 L123.25,223.27 L125.00,223.25 L126.50,223.23 L128.00,223.20 L129.25,223.17 L129.50,223.12 L129.75,223.00 L130.00,222.72 L130.25,222.20 L130.50,221.45 L130.75,220.60 L131.00,219.94 L131.25,219.77 L131.50,220.15 L131.75,220.92 L132.00,221.75 L132.25,222.41 L132.50,222.81 L132.75,223.01 L133.00,223.09 L133.25,223.12 L134.25,223.09 L134.50,223.05 L134.75,222.99 L135.00,222.89 L135.25,222.74 L135.50,222.54 L135.75,222.31 L136.00,222.09 L136.25,221.93 L136.50,221.87 L136.75,221.93 L137.00,222.08 L137.25,222.28 L137.50,222.48 L137.75,222.63 L138.00,222.69 L138.25,222.63 L138.50,222.45 L138.75,222.17 L139.00,221.86 L139.25,221.62 L139.50,221.52 L139.75,221.61 L140.00,221.85 L140.25,222.16 L140.50,222.46 L140.75,222.64 L141.00,222.61 L141.25,222.12 L141.50,220.73 L141.75,217.98 L142.00,213.88 L142.25,209.50 L142.50,206.74 L142.75,207.07 L143.00,210.30 L143.25,214.75 L143.50,218.55 L143.75,220.53 L144.00,219.52 L144.25,213.16 L144.50,199.61 L144.75,183.30 L145.00,175.61 L145.25,183.21 L145.50,199.23 L145.75,211.99 L146.00,216.80 L146.25,215.79 L146.50,212.79 L146.75,210.90 L147.00,211.62 L147.25,214.23 L147.50,216.72 L147.75,217.64 L148.00,217.20 L148.25,216.72 L148.50,217.27 L148.75,218.75 L149.00,220.19 L149.25,220.64 L149.50,219.70 L149.75,217.76 L150.00,215.89 L150.25,215.33 L150.50,216.42 L150.75,218.34 L151.00,219.87 L151.25,220.40 L151.50,220.10 L151.75,219.55 L152.00,219.30 L152.25,219.60 L152.50,220.32 L152.75,221.16 L153.00,221.79 L153.25,222.03 L153.50,221.84 L153.75,221.27 L154.00,220.51 L154.25,219.84 L154.50,219.57 L154.75,219.82 L155.00,220.45 L155.25,221.15 L155.50,221.61 L155.75,221.68 L156.00,221.35 L156.25,220.73 L156.50,220.02 L156.75,219.46 L157.00,219.24 L157.25,219.45 L157.50,220.00 L157.75,220.69 L158.00,221.27 L158.25,221.50 L158.50,221.24 L158.75,220.50 L159.00,219.47 L159.25,218.55 L159.50,218.17 L159.75,218.51 L160.00,219.38 L160.25,220.36 L160.50,221.05 L160.75,221.29 L161.00,221.11 L161.25,220.68 L161.50,220.19 L161.75,219.81 L162.00,219.67 L162.25,219.81 L162.50,220.19 L162.75,220.73 L163.00,221.28 L163.25,221.77 L163.50,222.13 L163.75,222.34 L164.00,222.35 L164.25,221.94 L164.50,220.64 L164.75,217.89 L165.00,213.77 L165.25,209.73 L165.50,207.99 L165.75,209.62 L166.00,213.43 L166.25,217.08 L166.50,219.01 L166.75,219.19 L167.00,218.44 L167.25,217.72 L167.50,217.64 L167.75,218.30 L168.00,219.39 L168.25,220.39 L168.50,220.97 L168.75,221.01 L169.00,220.61 L169.25,219.96 L169.50,219.28 L169.75,218.76 L170.00,218.56 L170.25,218.73 L170.50,219.20 L170.75,219.84 L171.00,220.44 L171.25,220.85 L171.50,221.00 L171.75,220.86 L172.00,220.49 L172.25,220.00 L172.50,219.52 L172.75,219.17 L173.00,219.04 L173.25,219.17 L173.50,219.53 L173.75,220.03 L174.00,220.56 L174.25,221.02 L174.50,221.32 L174.75,221.41 L175.00,221.32 L175.25,221.08 L175.50,220.81 L175.75,220.59 L176.00,220.51 L176.25,220.61 L176.50,220.87 L176.75,221.22 L177.00,221.55 L177.25,221.73 L177.50,221.51 L177.75,220.58 L178.00,218.82 L178.25,216.68 L178.50,215.23 L178.75,215.41 L179.00,217.07 L179.25,219.16 L179.50,220.63 L179.75,221.12 L180.00,220.83 L180.25,220.20 L180.50,219.65 L180.75,219.50 L181.00,219.84 L181.25,220.52 L181.50,221.26 L181.75,221.84 L182.00,222.20 L182.25,222.37 L182.50,222.38 L182.75,222.20 L183.00,221.62 L183.25,220.40 L183.50,218.59 L183.75,216.79 L184.00,215.97 L184.25,216.58 L184.50,218.07 L184.75,219.43 L185.00,220.05 L185.25,219.99 L185.50,219.66 L185.75,219.45 L186.00,219.53 L186.25,219.90 L186.50,220.40 L186.75,220.84 L187.00,221.11 L187.25,221.16 L187.50,221.09 L187.75,220.99 L188.00,220.96 L188.25,221.05 L188.50,221.25 L188.75,221.52 L189.00,221.80 L189.25,222.03 L189.50,222.19 L189.75,222.26 L190.00,222.22 L190.25,222.06 L190.50,221.76 L190.75,221.36 L191.00,220.94 L191.25,220.62 L191.50,220.50 L191.75,220.62 L192.00,220.94 L192.25,221.33 L192.50,221.61 L192.75,221.55 L193.00,220.91 L193.25,219.69 L193.50,218.30 L193.75,217.52 L194.00,217.89 L194.25,219.12 L194.50,220.23 L194.75,219.80 L195.00,216.13 L195.25,208.65 L195.50,200.64 L195.75,198.19 L196.00,203.38 L196.25,207.17 L196.50,191.79 L196.75,202.39 L197.00,206.28 L197.25,199.53 L197.50,198.73 L197.75,205.24 L198.00,213.72 L198.25,219.40 L198.50,221.77 L198.75,222.42 L199.00,222.55 L199.50,222.57 L200.00,222.56 L200.25,222.46 L200.50,221.96 L200.75,220.22 L201.00,216.03 L201.25,209.25 L201.50,202.67 L201.75,200.74 L202.00,204.96 L202.25,212.06 L202.50,217.64 L202.75,220.00 L203.00,219.85 L203.25,218.66 L203.50,217.73 L203.75,217.86 L204.00,219.01 L204.25,220.50 L204.50,221.65 L204.75,222.23 L205.00,222.24 L205.25,221.60 L205.50,220.03 L205.75,217.49 L206.00,214.75 L206.25,213.23 L206.50,213.91 L206.75,216.30 L207.00,218.96 L207.25,220.69 L207.50,221.18 L207.75,220.74 L208.00,219.87 L208.25,219.05 L208.50,218.73 L208.75,219.05 L209.00,219.87 L209.25,220.79 L209.50,221.46 L209.75,221.70 L210.00,221.51 L210.25,221.03 L210.50,220.44 L210.75,219.96 L211.00,219.79 L211.25,219.97 L211.50,220.46 L211.75,221.08 L212.00,221.65 L212.25,222.04 L212.50,222.21 L212.75,222.17 L213.00,221.96 L213.25,221.66 L213.50,221.36 L213.75,221.13 L214.00,221.05 L214.25,221.13 L214.50,221.35 L214.75,221.64 L215.00,221.92 L215.25,222.14 L215.50,222.26 L215.75,222.28 L216.00,222.22 L216.25,222.12 L216.50,222.02 L216.75,221.95 L217.00,221.93 L217.25,221.97 L217.50,222.06 L217.75,222.19 L218.00,222.35 L218.25,222.50 L218.50,222.64 L218.75,222.76 L219.00,222.84 L219.25,222.90 L219.50,222.95 L219.75,222.97 L220.25,223.00 L221.00,223.02 L222.00,223.05 L223.00,223.07 L224.00,223.09 L225.00,223.11 L226.00,223.14 L227.00,223.16 L228.00,223.18 L229.25,223.20 L230.50,223.23 L231.75,223.25 L233.00,223.27 L234.25,223.29 L235.75,223.31 L237.25,223.33 L239.00,223.35 L240.75,223.37 L242.75,223.39 L245.25,223.42 L248.25,223.44 L252.00,223.46 L257.75,223.48 L275.25,223.50 L326.50,223.50" fill="none" stroke="#202020" stroke-width="0.55" stroke-linejoin="round" clip-path="url(#cp174)"/>
<line x1="29.0" y1="231.5" x2="327.0" y2="231.5" stroke="#3c3c3c" stroke-width="1"/>
<line x1="29.0" y1="283.5" x2="327.0" y2="283.5" stroke="#555" stroke-width="1"/>
<line x1="29.5" y1="231.5" x2="29.5" y2="283.5" stroke="#777" stroke-width="1"/>
<line x1="326.5" y1="231.5" x2="326.5" y2="283.5" stroke="#9a9a9a" stroke-width="1"/>
<clipPath id="cp231"><rect x="29.5" y="232.0" width="297.0" height="51.0"/></clipPath>
<path d="M29.50,280.50 L129.50,280.47 L129.75,280.42 L130.00,280.31 L130.25,280.10 L130.50,279.79 L130.75,279.44 L131.00,279.18 L131.25,279.10 L131.50,279.26 L131.75,279.58 L132.00,279.92 L132.25,280.20 L132.50,280.37 L132.75,280.45 L133.00,280.48 L138.25,280.48 L138.50,280.46 L138.75,280.42 L139.00,280.35 L139.25,280.23 L139.50,280.05 L139.75,279.81 L140.00,279.53 L140.25,279.23 L140.50,278.96 L140.75,278.77 L141.00,278.69 L141.25,278.73 L141.50,278.81 L141.75,278.76 L142.00,278.34 L142.25,277.37 L142.50,275.95 L142.75,274.63 L143.00,274.12 L143.25,274.71 L143.50,275.89 L143.75,276.56 L144.00,275.57 L144.25,272.33 L144.50,267.44 L144.75,262.85 L145.00,260.92 L145.25,262.71 L145.50,267.13 L145.75,271.89 L146.00,275.25 L146.25,276.92 L146.50,277.56 L146.75,277.95 L147.00,278.47 L147.25,279.11 L147.50,279.69 L147.75,280.10 L148.00,280.34 L148.25,280.44 L148.50,280.48 L165.75,280.49 L166.00,280.47 L166.25,280.41 L166.50,280.29 L166.75,280.03 L167.00,279.57 L167.25,278.90 L167.50,278.06 L167.75,277.22 L168.00,276.61 L168.25,276.42 L168.50,276.69 L168.75,277.28 L169.00,277.96 L169.25,278.50 L169.50,278.80 L169.75,278.87 L170.00,278.80 L170.25,278.70 L170.50,278.67 L170.75,278.75 L171.00,278.94 L171.25,279.21 L171.50,279.51 L171.75,279.79 L172.00,280.03 L172.25,280.21 L172.50,280.32 L172.75,280.40 L173.00,280.44 L173.50,280.46 L176.75,280.44 L178.50,280.42 L180.00,280.40 L181.25,280.37 L182.25,280.35 L183.25,280.33 L184.00,280.31 L184.75,280.28 L185.50,280.26 L186.25,280.23 L187.00,280.21 L187.75,280.18 L188.50,280.15 L189.00,280.13 L189.50,280.11 L190.00,280.09 L190.50,280.07 L191.00,280.04 L191.50,280.02 L192.00,280.00 L192.50,279.97 L192.75,279.95 L193.00,279.91 L193.25,279.79 L193.50,279.48 L193.75,278.76 L194.00,277.24 L194.25,274.52 L194.50,270.33 L194.75,264.95 L195.00,259.33 L195.25,254.98 L195.50,253.31 L195.75,254.86 L196.00,259.00 L196.25,264.23 L196.50,269.01 L196.75,272.44 L197.00,274.46 L197.25,275.61 L197.50,276.47 L197.75,277.33 L198.00,278.15 L198.25,278.80 L198.50,279.15 L198.75,279.16 L199.00,278.80 L199.25,278.00 L199.50,276.63 L199.75,274.58 L200.00,271.86 L200.25,267.48 L200.50,252.35 L200.75,234.12 L201.00,248.50 L201.25,260.65 L201.50,263.50 L201.75,266.20 L202.00,269.35 L202.25,272.42 L202.50,274.98 L202.75,276.88 L203.00,278.13 L203.25,278.88 L203.50,279.27 L203.75,279.47 L204.00,279.55 L204.25,279.58 L205.75,279.57 L206.00,279.54 L206.25,279.47 L206.50,279.35 L206.75,279.17 L207.00,278.93 L207.25,278.65 L207.50,278.39 L207.75,278.19 L208.00,278.13 L208.25,278.20 L208.50,278.40 L208.75,278.68 L209.00,278.96 L209.25,279.21 L209.50,279.40 L209.75,279.50 L210.00,279.49 L210.25,279.28 L210.50,278.67 L210.75,277.42 L211.00,275.38 L211.25,272.80 L211.50,270.42 L211.75,269.20 L212.00,269.68 L212.25,271.58 L212.50,274.04 L212.75,276.12 L213.00,277.38 L213.25,277.84 L213.50,277.77 L213.75,277.47 L214.00,277.12 L214.25,276.86 L214.50,276.74 L214.75,276.80 L215.00,277.01 L215.25,277.33 L215.50,277.69 L215.75,278.04 L216.00,278.32 L216.25,278.51 L216.50,278.62 L216.75,278.64 L217.00,278.62 L217.25,278.57 L217.50,278.52 L217.75,278.49 L218.00,278.49 L218.25,278.53 L218.50,278.60 L218.75,278.71 L219.00,278.84 L219.25,279.00 L219.50,279.16 L219.75,279.32 L220.00,279.47 L220.25,279.61 L220.50,279.74 L220.75,279.84 L221.00,279.93 L221.25,280.00 L221.50,280.05 L221.75,280.09 L222.00,280.13 L222.25,280.15 L222.75,280.19 L223.25,280.21 L224.00,280.24 L224.75,280.27 L225.50,280.29 L226.25,280.31 L227.25,280.34 L228.25,280.36 L229.25,280.38 L230.50,280.41 L232.00,280.43 L233.75,280.45 L236.25,280.47 L241.00,280.49 L326.50,280.50" fill="none" stroke="#202020" stroke-width="0.75" stroke-linejoin="round" clip-path="url(#cp231)"/>
<line x1="29.0" y1="288.5" x2="327.0" y2="288.5" stroke="#444" stroke-width="1"/>
<line x1="29.0" y1="340.5" x2="327.0" y2="340.5" stroke="#444" stroke-width="1"/>
<line x1="29.5" y1="288.5" x2="29.5" y2="340.5" stroke="#8a8a8a" stroke-width="1"/>
<line x1="326.5" y1="288.5" x2="326.5" y2="340.5" stroke="#9a9a9a" stroke-width="1"/>
<clipPath id="cp288"><rect x="29.5" y="289.0" width="297.0" height="51.0"/></clipPath>
<path d="M29.50,338.50 L197.00,338.49 L197.25,338.47 L197.50,338.39 L197.75,338.20 L198.00,337.72 L198.25,336.68 L198.50,334.64 L198.75,331.07 L199.00,325.54 L199.25,318.00 L199.50,309.07 L199.75,300.18 L200.00,293.25 L200.25,290.02 L200.50,291.38 L200.75,296.92 L201.00,305.18 L201.25,314.19 L201.50,322.30 L201.75,328.53 L202.00,332.72 L202.25,335.19 L202.50,336.48 L202.75,337.08 L203.00,337.34 L203.25,337.47 L203.50,337.57 L203.75,337.67 L204.00,337.79 L204.25,337.92 L204.50,338.04 L204.75,338.15 L205.00,338.25 L205.25,338.33 L205.50,338.39 L205.75,338.43 L206.00,338.46 L206.50,338.49 L326.50,338.50" fill="none" stroke="#202020" stroke-width="0.55" stroke-linejoin="round" clip-path="url(#cp288)"/>
<text class="ct" x="26.3" y="177.0" text-anchor="end">0.20</text>
<line x1="26.8" y1="175.5" x2="29" y2="175.5" stroke="#555" stroke-width="0.7"/>
<text class="ct" x="26.3" y="201.0" text-anchor="end">0.10</text>
<line x1="26.8" y1="199.5" x2="29" y2="199.5" stroke="#555" stroke-width="0.7"/>
<text class="ct" x="26.3" y="225.0" text-anchor="end">0.00</text>
<line x1="26.8" y1="223.5" x2="29" y2="223.5" stroke="#555" stroke-width="0.7"/>
<text class="ct" x="26.3" y="241.0" text-anchor="end">0.60</text>
<line x1="26.8" y1="239.5" x2="29" y2="239.5" stroke="#555" stroke-width="0.7"/>
<text class="ct" x="26.3" y="255.0" text-anchor="end">0.40</text>
<line x1="26.8" y1="253.5" x2="29" y2="253.5" stroke="#555" stroke-width="0.7"/>
<text class="ct" x="26.3" y="268.5" text-anchor="end">0.20</text>
<line x1="26.8" y1="267.0" x2="29" y2="267.0" stroke="#555" stroke-width="0.7"/>
<text class="ct" x="26.3" y="282.0" text-anchor="end">0.00</text>
<line x1="26.8" y1="280.5" x2="29" y2="280.5" stroke="#555" stroke-width="0.7"/>
<text class="ct" x="26.3" y="295.0" text-anchor="end">1.50</text>
<line x1="26.8" y1="293.5" x2="29" y2="293.5" stroke="#555" stroke-width="0.7"/>
<text class="ct" x="26.3" y="310.0" text-anchor="end">1.00</text>
<line x1="26.8" y1="308.5" x2="29" y2="308.5" stroke="#555" stroke-width="0.7"/>
<text class="ct" x="26.3" y="325.0" text-anchor="end">0.50</text>
<line x1="26.8" y1="323.5" x2="29" y2="323.5" stroke="#555" stroke-width="0.7"/>
<text class="ct" x="26.3" y="340.0" text-anchor="end">0.00</text>
<line x1="26.8" y1="338.5" x2="29" y2="338.5" stroke="#555" stroke-width="0.7"/>
<line x1="27.9" y1="175.5" x2="29" y2="175.5" stroke="#666" stroke-width="0.6"/>
<line x1="27.9" y1="180.3" x2="29" y2="180.3" stroke="#666" stroke-width="0.6"/>
<line x1="27.9" y1="185.1" x2="29" y2="185.1" stroke="#666" stroke-width="0.6"/>
<line x1="27.9" y1="189.9" x2="29" y2="189.9" stroke="#666" stroke-width="0.6"/>
<line x1="27.9" y1="194.7" x2="29" y2="194.7" stroke="#666" stroke-width="0.6"/>
<line x1="27.9" y1="199.5" x2="29" y2="199.5" stroke="#666" stroke-width="0.6"/>
<line x1="27.9" y1="204.3" x2="29" y2="204.3" stroke="#666" stroke-width="0.6"/>
<line x1="27.9" y1="209.1" x2="29" y2="209.1" stroke="#666" stroke-width="0.6"/>
<line x1="27.9" y1="213.9" x2="29" y2="213.9" stroke="#666" stroke-width="0.6"/>
<line x1="27.9" y1="218.7" x2="29" y2="218.7" stroke="#666" stroke-width="0.6"/>
<line x1="27.9" y1="223.5" x2="29" y2="223.5" stroke="#666" stroke-width="0.6"/>
<line x1="27.9" y1="239.5" x2="29" y2="239.5" stroke="#666" stroke-width="0.6"/>
<line x1="27.9" y1="242.9" x2="29" y2="242.9" stroke="#666" stroke-width="0.6"/>
<line x1="27.9" y1="246.3" x2="29" y2="246.3" stroke="#666" stroke-width="0.6"/>
<line x1="27.9" y1="249.8" x2="29" y2="249.8" stroke="#666" stroke-width="0.6"/>
<line x1="27.9" y1="253.2" x2="29" y2="253.2" stroke="#666" stroke-width="0.6"/>
<line x1="27.9" y1="256.6" x2="29" y2="256.6" stroke="#666" stroke-width="0.6"/>
<line x1="27.9" y1="260.0" x2="29" y2="260.0" stroke="#666" stroke-width="0.6"/>
<line x1="27.9" y1="263.4" x2="29" y2="263.4" stroke="#666" stroke-width="0.6"/>
<line x1="27.9" y1="266.8" x2="29" y2="266.8" stroke="#666" stroke-width="0.6"/>
<line x1="27.9" y1="270.2" x2="29" y2="270.2" stroke="#666" stroke-width="0.6"/>
<line x1="27.9" y1="273.7" x2="29" y2="273.7" stroke="#666" stroke-width="0.6"/>
<line x1="27.9" y1="277.1" x2="29" y2="277.1" stroke="#666" stroke-width="0.6"/>
<line x1="27.9" y1="280.5" x2="29" y2="280.5" stroke="#666" stroke-width="0.6"/>
<line x1="27.9" y1="293.5" x2="29" y2="293.5" stroke="#666" stroke-width="0.6"/>
<line x1="27.9" y1="296.5" x2="29" y2="296.5" stroke="#666" stroke-width="0.6"/>
<line x1="27.9" y1="299.5" x2="29" y2="299.5" stroke="#666" stroke-width="0.6"/>
<line x1="27.9" y1="302.5" x2="29" y2="302.5" stroke="#666" stroke-width="0.6"/>
<line x1="27.9" y1="305.5" x2="29" y2="305.5" stroke="#666" stroke-width="0.6"/>
<line x1="27.9" y1="308.5" x2="29" y2="308.5" stroke="#666" stroke-width="0.6"/>
<line x1="27.9" y1="311.5" x2="29" y2="311.5" stroke="#666" stroke-width="0.6"/>
<line x1="27.9" y1="314.5" x2="29" y2="314.5" stroke="#666" stroke-width="0.6"/>
<line x1="27.9" y1="317.5" x2="29" y2="317.5" stroke="#666" stroke-width="0.6"/>
<line x1="27.9" y1="320.5" x2="29" y2="320.5" stroke="#666" stroke-width="0.6"/>
<line x1="27.9" y1="323.5" x2="29" y2="323.5" stroke="#666" stroke-width="0.6"/>
<line x1="27.9" y1="326.5" x2="29" y2="326.5" stroke="#666" stroke-width="0.6"/>
<line x1="27.9" y1="329.5" x2="29" y2="329.5" stroke="#666" stroke-width="0.6"/>
<line x1="27.9" y1="332.5" x2="29" y2="332.5" stroke="#666" stroke-width="0.6"/>
<line x1="27.9" y1="335.5" x2="29" y2="335.5" stroke="#666" stroke-width="0.6"/>
<line x1="27.9" y1="338.5" x2="29" y2="338.5" stroke="#666" stroke-width="0.6"/>
<text class="ct" transform="translate(5.6,199.8) rotate(-90)" text-anchor="middle" style="font-size:5.6px">AU</text>
<text class="ct" transform="translate(5.6,257.2) rotate(-90)" text-anchor="middle" style="font-size:5.6px">AU</text>
<text class="ct" transform="translate(5.6,313.7) rotate(-90)" text-anchor="middle" style="font-size:5.6px">AU</text>
<text class="ct" x="29.5" y="349.0" text-anchor="middle">2.00</text>
<line x1="29.5" y1="341" x2="29.5" y2="343" stroke="#555" stroke-width="0.7"/>
<text class="ct" x="66.6" y="349.0" text-anchor="middle">2.50</text>
<line x1="66.6" y1="341" x2="66.6" y2="343" stroke="#555" stroke-width="0.7"/>
<text class="ct" x="103.8" y="349.0" text-anchor="middle">3.00</text>
<line x1="103.8" y1="341" x2="103.8" y2="343" stroke="#555" stroke-width="0.7"/>
<text class="ct" x="140.9" y="349.0" text-anchor="middle">3.50</text>
<line x1="140.9" y1="341" x2="140.9" y2="343" stroke="#555" stroke-width="0.7"/>
<text class="ct" x="178.0" y="349.0" text-anchor="middle">4.00</text>
<line x1="178.0" y1="341" x2="178.0" y2="343" stroke="#555" stroke-width="0.7"/>
<text class="ct" x="215.1" y="349.0" text-anchor="middle">4.50</text>
<line x1="215.1" y1="341" x2="215.1" y2="343" stroke="#555" stroke-width="0.7"/>
<text class="ct" x="252.2" y="349.0" text-anchor="middle">5.00</text>
<line x1="252.2" y1="341" x2="252.2" y2="343" stroke="#555" stroke-width="0.7"/>
<text class="ct" x="289.4" y="349.0" text-anchor="middle">5.50</text>
<line x1="289.4" y1="341" x2="289.4" y2="343" stroke="#555" stroke-width="0.7"/>
<text class="ct" x="326.5" y="349.0" text-anchor="middle">6.00</text>
<line x1="326.5" y1="341" x2="326.5" y2="343" stroke="#555" stroke-width="0.7"/>
<line x1="29.5" y1="341" x2="29.5" y2="342" stroke="#777" stroke-width="0.6"/>
<line x1="36.9" y1="341" x2="36.9" y2="342" stroke="#777" stroke-width="0.6"/>
<line x1="44.4" y1="341" x2="44.4" y2="342" stroke="#777" stroke-width="0.6"/>
<line x1="51.8" y1="341" x2="51.8" y2="342" stroke="#777" stroke-width="0.6"/>
<line x1="59.2" y1="341" x2="59.2" y2="342" stroke="#777" stroke-width="0.6"/>
<line x1="66.6" y1="341" x2="66.6" y2="342" stroke="#777" stroke-width="0.6"/>
<line x1="74.1" y1="341" x2="74.1" y2="342" stroke="#777" stroke-width="0.6"/>
<line x1="81.5" y1="341" x2="81.5" y2="342" stroke="#777" stroke-width="0.6"/>
<line x1="88.9" y1="341" x2="88.9" y2="342" stroke="#777" stroke-width="0.6"/>
<line x1="96.3" y1="341" x2="96.3" y2="342" stroke="#777" stroke-width="0.6"/>
<line x1="103.8" y1="341" x2="103.8" y2="342" stroke="#777" stroke-width="0.6"/>
<line x1="111.2" y1="341" x2="111.2" y2="342" stroke="#777" stroke-width="0.6"/>
<line x1="118.6" y1="341" x2="118.6" y2="342" stroke="#777" stroke-width="0.6"/>
<line x1="126.0" y1="341" x2="126.0" y2="342" stroke="#777" stroke-width="0.6"/>
<line x1="133.5" y1="341" x2="133.5" y2="342" stroke="#777" stroke-width="0.6"/>
<line x1="140.9" y1="341" x2="140.9" y2="342" stroke="#777" stroke-width="0.6"/>
<line x1="148.3" y1="341" x2="148.3" y2="342" stroke="#777" stroke-width="0.6"/>
<line x1="155.7" y1="341" x2="155.7" y2="342" stroke="#777" stroke-width="0.6"/>
<line x1="163.1" y1="341" x2="163.1" y2="342" stroke="#777" stroke-width="0.6"/>
<line x1="170.6" y1="341" x2="170.6" y2="342" stroke="#777" stroke-width="0.6"/>
<line x1="178.0" y1="341" x2="178.0" y2="342" stroke="#777" stroke-width="0.6"/>
<line x1="185.4" y1="341" x2="185.4" y2="342" stroke="#777" stroke-width="0.6"/>
<line x1="192.9" y1="341" x2="192.9" y2="342" stroke="#777" stroke-width="0.6"/>
<line x1="200.3" y1="341" x2="200.3" y2="342" stroke="#777" stroke-width="0.6"/>
<line x1="207.7" y1="341" x2="207.7" y2="342" stroke="#777" stroke-width="0.6"/>
<line x1="215.1" y1="341" x2="215.1" y2="342" stroke="#777" stroke-width="0.6"/>
<line x1="222.5" y1="341" x2="222.5" y2="342" stroke="#777" stroke-width="0.6"/>
<line x1="230.0" y1="341" x2="230.0" y2="342" stroke="#777" stroke-width="0.6"/>
<line x1="237.4" y1="341" x2="237.4" y2="342" stroke="#777" stroke-width="0.6"/>
<line x1="244.8" y1="341" x2="244.8" y2="342" stroke="#777" stroke-width="0.6"/>
<line x1="252.2" y1="341" x2="252.2" y2="342" stroke="#777" stroke-width="0.6"/>
<line x1="259.7" y1="341" x2="259.7" y2="342" stroke="#777" stroke-width="0.6"/>
<line x1="267.1" y1="341" x2="267.1" y2="342" stroke="#777" stroke-width="0.6"/>
<line x1="274.5" y1="341" x2="274.5" y2="342" stroke="#777" stroke-width="0.6"/>
<line x1="282.0" y1="341" x2="282.0" y2="342" stroke="#777" stroke-width="0.6"/>
<line x1="289.4" y1="341" x2="289.4" y2="342" stroke="#777" stroke-width="0.6"/>
<line x1="296.8" y1="341" x2="296.8" y2="342" stroke="#777" stroke-width="0.6"/>
<line x1="304.2" y1="341" x2="304.2" y2="342" stroke="#777" stroke-width="0.6"/>
<line x1="311.7" y1="341" x2="311.7" y2="342" stroke="#777" stroke-width="0.6"/>
<line x1="319.1" y1="341" x2="319.1" y2="342" stroke="#777" stroke-width="0.6"/>
<line x1="326.5" y1="341" x2="326.5" y2="342" stroke="#777" stroke-width="0.6"/>
<text class="ct" x="178" y="357.7" text-anchor="middle" style="font-size:5.8px">Minutes</text>
<text class="cl" x="33.8" y="183.4">-216 mV,</text><text class="cl" x="33.8" y="192.8">5 mM GSH</text>
<text class="cl" x="33.8" y="243.4">-163 mV,</text><text class="cl" x="33.8" y="252.8">0.625 mM GSH</text>
<text class="cl" x="33.8" y="303.3">0 mV,</text><text class="cl" x="33.8" y="313.1">0 mM GSH</text>
<text class="cp" x="150.3" y="183.2">A</text>
<text class="cp" x="139.9" y="205.6">A</text>
<text class="cp" x="153.8" y="214.6">A*</text>
<text class="cp" x="165.5" y="205.6">A</text>
<text class="cp" x="181.9" y="213.1">A*</text>
<text class="cp" x="194.9" y="187.5">B</text>
<text class="cp" x="205.7" y="196.1">HI</text>
<text class="cp" x="211.2" y="209.4">2B</text>
<text class="cp" x="138.2" y="273">A</text>
<text class="cp" x="145.4" y="258.6">A</text>
<text class="cp" x="167.8" y="273.8">A</text>
<text class="cp" x="195.5" y="253.2">B</text>
<text class="cp" x="207.7" y="243.6">HI</text>
<text class="cp" x="208.9" y="298.2">HI</text>
<line x1="409.7" y1="181.8" x2="409.7" y2="311.5" stroke="#000" stroke-width="1.2"/>
<line x1="409.09999999999997" y1="310.9" x2="603.2" y2="310.9" stroke="#000" stroke-width="1.2"/>
<line x1="404.09999999999997" y1="310.9" x2="409.7" y2="310.9" stroke="#000" stroke-width="1.15"/>
<line x1="406.5" y1="304.5" x2="409.7" y2="304.5" stroke="#000" stroke-width="1.15"/>
<line x1="406.5" y1="298.0" x2="409.7" y2="298.0" stroke="#000" stroke-width="1.15"/>
<line x1="406.5" y1="291.6" x2="409.7" y2="291.6" stroke="#000" stroke-width="1.15"/>
<line x1="406.5" y1="285.2" x2="409.7" y2="285.2" stroke="#000" stroke-width="1.15"/>
<line x1="406.5" y1="278.8" x2="409.7" y2="278.8" stroke="#000" stroke-width="1.15"/>
<line x1="406.5" y1="272.3" x2="409.7" y2="272.3" stroke="#000" stroke-width="1.15"/>
<line x1="406.5" y1="265.9" x2="409.7" y2="265.9" stroke="#000" stroke-width="1.15"/>
<line x1="406.5" y1="259.5" x2="409.7" y2="259.5" stroke="#000" stroke-width="1.15"/>
<line x1="406.5" y1="253.1" x2="409.7" y2="253.1" stroke="#000" stroke-width="1.15"/>
<line x1="404.09999999999997" y1="246.6" x2="409.7" y2="246.6" stroke="#000" stroke-width="1.15"/>
<line x1="406.5" y1="240.2" x2="409.7" y2="240.2" stroke="#000" stroke-width="1.15"/>
<line x1="406.5" y1="233.8" x2="409.7" y2="233.8" stroke="#000" stroke-width="1.15"/>
<line x1="406.5" y1="227.4" x2="409.7" y2="227.4" stroke="#000" stroke-width="1.15"/>
<line x1="406.5" y1="220.9" x2="409.7" y2="220.9" stroke="#000" stroke-width="1.15"/>
<line x1="406.5" y1="214.5" x2="409.7" y2="214.5" stroke="#000" stroke-width="1.15"/>
<line x1="406.5" y1="208.1" x2="409.7" y2="208.1" stroke="#000" stroke-width="1.15"/>
<line x1="406.5" y1="201.7" x2="409.7" y2="201.7" stroke="#000" stroke-width="1.15"/>
<line x1="406.5" y1="195.2" x2="409.7" y2="195.2" stroke="#000" stroke-width="1.15"/>
<line x1="406.5" y1="188.8" x2="409.7" y2="188.8" stroke="#000" stroke-width="1.15"/>
<line x1="404.09999999999997" y1="182.4" x2="409.7" y2="182.4" stroke="#000" stroke-width="1.15"/>
<text class="bt" x="402.8" y="314.4" text-anchor="end">0</text>
<text class="bt" x="402.8" y="250.1" text-anchor="end">50</text>
<text class="bt" x="402.8" y="185.9" text-anchor="end">100</text>
<line x1="409.7" y1="310.9" x2="409.7" y2="316.29999999999995" stroke="#000" stroke-width="1.15"/>
<text class="bt" x="409.3" y="327.2" text-anchor="middle">-300</text>
<line x1="448.3" y1="310.9" x2="448.3" y2="316.29999999999995" stroke="#000" stroke-width="1.15"/>
<text class="bt" x="447.9" y="327.2" text-anchor="middle">-250</text>
<line x1="486.9" y1="310.9" x2="486.9" y2="316.29999999999995" stroke="#000" stroke-width="1.15"/>
<text class="bt" x="486.5" y="327.2" text-anchor="middle">-200</text>
<line x1="525.4" y1="310.9" x2="525.4" y2="316.29999999999995" stroke="#000" stroke-width="1.15"/>
<text class="bt" x="525.0" y="327.2" text-anchor="middle">-150</text>
<line x1="564.0" y1="310.9" x2="564.0" y2="316.29999999999995" stroke="#000" stroke-width="1.15"/>
<text class="bt" x="563.6" y="327.2" text-anchor="middle">-100</text>
<line x1="602.6" y1="310.9" x2="602.6" y2="316.29999999999995" stroke="#000" stroke-width="1.15"/>
<text class="bt" x="602.2" y="327.2" text-anchor="middle">-50</text>
<text class="bl" x="506" y="360.4" text-anchor="middle" style="font-size:10.6px" textLength="106.2" lengthAdjust="spacingAndGlyphs">Redox Potential (mV)</text>
<text class="bl" transform="translate(368.3,246.7) rotate(-90)" text-anchor="middle" style="font-size:10.8px" textLength="41.7" lengthAdjust="spacingAndGlyphs">% intact</text>
<line x1="505.7" y1="182.4" x2="505.7" y2="310.9" stroke="#000" stroke-width="1.4" stroke-dasharray="1.25,2.6"/>
<line x1="534.5" y1="182.4" x2="534.5" y2="310.9" stroke="#000" stroke-width="1.4" stroke-dasharray="1.25,2.6"/>
<text class="bt" transform="translate(509.9,327.8) rotate(-90)" style="font-size:9.1px">rat</text>
<text class="bt" transform="translate(537.8,346) rotate(-90)" style="font-size:9.1px">human</text>
<path d="M501.5,302.6 L502.5,301.8 L503.5,300.9 L504.5,300.0 L505.5,299.0 L506.5,298.0 L507.5,296.8 L508.5,295.6 L509.5,294.3 L510.5,292.8 L511.5,291.3 L512.5,289.7 L513.5,287.9 L514.5,286.1 L515.5,284.1 L516.5,282.0 L517.5,279.8 L518.5,277.5 L519.5,275.1 L520.5,272.6 L521.5,270.0 L522.5,267.3 L523.5,264.5 L524.5,261.7 L525.5,258.7 L526.5,255.8 L527.5,252.8 L528.5,249.7 L529.5,246.6 L530.5,243.6 L531.5,240.5 L532.5,237.5 L533.5,234.6 L534.5,231.6 L535.5,228.8 L536.5,226.0 L537.5,223.3 L538.5,220.7 L539.5,218.2 L540.5,215.8 L541.5,213.5 L542.5,211.3 L543.5,209.2 L544.5,207.2 L545.5,205.4 L546.5,203.6 L547.5,202.0 L548.5,200.5 L549.5,199.0 L550.5,197.7 L551.5,196.5 L552.5,195.3 L553.5,194.3 L554.5,193.3 L555.5,192.4 L556.5,191.5 L557.5,190.7 L558.5,190.0 L559.5,189.4 L560.5,188.8 L561.5,188.2 L562.5,187.7 L563.5,187.3 L564.5,186.8 L565.5,186.4 L566.5,186.1 L567.5,185.8 L568.5,185.5 L569.5,185.2 L570.5,184.9 L571.5,184.7 L572.5,184.5 L573.5,184.3 L574.5,184.1 L575.5,184.0 L576.5,183.8 L577.5,183.7 L578.5,183.6 L579.5,183.5 L580.5,183.4 L581.5,183.3 L582.5,183.2 L583.5,183.1 L584.5,183.1 L585.5,183.0 L586.5,183.0 L587.5,182.9 L588.5,182.9 L589.5,182.8 L590.5,182.8 L591.5,182.7 L592.5,182.7 L593.5,182.7 L594.5,182.7 L595.5,182.6 L596.5,182.6" fill="none" stroke="#a8792f" stroke-width="0.9"/>
<path d="M501.5,291.8 L502.5,290.6 L503.5,289.4 L504.5,288.2 L505.5,286.9 L506.5,285.5 L507.5,284.0 L508.5,282.6 L509.5,281.0 L510.5,279.4 L511.5,277.7 L512.5,276.0 L513.5,274.2 L514.5,272.4 L515.5,270.5 L516.5,268.6 L517.5,266.6 L518.5,264.6 L519.5,262.5 L520.5,260.4 L521.5,258.3 L522.5,256.1 L523.5,253.9 L524.5,251.7 L525.5,249.5 L526.5,247.3 L527.5,245.1 L528.5,242.9 L529.5,240.7 L530.5,238.5 L531.5,236.3 L532.5,234.2 L533.5,232.1 L534.5,230.0 L535.5,227.9 L536.5,225.9 L537.5,224.0 L538.5,222.0 L539.5,220.2 L540.5,218.4 L541.5,216.6 L542.5,214.9 L543.5,213.3 L544.5,211.7 L545.5,210.1 L546.5,208.7 L547.5,207.3 L548.5,205.9 L549.5,204.6 L550.5,203.4 L551.5,202.2 L552.5,201.1 L553.5,200.0 L554.5,199.0 L555.5,198.0 L556.5,197.1 L557.5,196.2 L558.5,195.4 L559.5,194.6 L560.5,193.9 L561.5,193.2 L562.5,192.5 L563.5,191.9 L564.5,191.3 L565.5,190.7 L566.5,190.2 L567.5,189.7 L568.5,189.3 L569.5,188.8 L570.5,188.4 L571.5,188.0 L572.5,187.7 L573.5,187.3 L574.5,187.0 L575.5,186.7 L576.5,186.4 L577.5,186.2 L578.5,185.9 L579.5,185.7 L580.5,185.5 L581.5,185.3 L582.5,185.1 L583.5,184.9 L584.5,184.8 L585.5,184.6 L586.5,184.5 L587.5,184.3 L588.5,184.2 L589.5,184.1 L590.5,184.0 L591.5,183.9 L592.5,183.8 L593.5,183.7 L594.5,183.6 L595.5,183.5 L596.5,183.4" fill="none" stroke="#000" stroke-width="0.9"/>
<path d="M501.5,283.9 L502.5,282.1 L503.5,280.2 L504.5,278.2 L505.5,276.1 L506.5,274.0 L507.5,271.8 L508.5,269.5 L509.5,267.1 L510.5,264.7 L511.5,262.3 L512.5,259.7 L513.5,257.2 L514.5,254.6 L515.5,251.9 L516.5,249.3 L517.5,246.6 L518.5,244.0 L519.5,241.4 L520.5,238.7 L521.5,236.1 L522.5,233.6 L523.5,231.0 L524.5,228.6 L525.5,226.2 L526.5,223.8 L527.5,221.5 L528.5,219.3 L529.5,217.2 L530.5,215.1 L531.5,213.1 L532.5,211.2 L533.5,209.4 L534.5,207.7 L535.5,206.1 L536.5,204.5 L537.5,203.1 L538.5,201.7 L539.5,200.3 L540.5,199.1 L541.5,197.9 L542.5,196.8 L543.5,195.8 L544.5,194.9 L545.5,194.0 L546.5,193.1 L547.5,192.3 L548.5,191.6 L549.5,190.9 L550.5,190.3 L551.5,189.7 L552.5,189.1 L553.5,188.6 L554.5,188.2 L555.5,187.7 L556.5,187.3 L557.5,186.9 L558.5,186.6 L559.5,186.3 L560.5,186.0 L561.5,185.7 L562.5,185.4 L563.5,185.2 L564.5,185.0 L565.5,184.8 L566.5,184.6 L567.5,184.4 L568.5,184.3 L569.5,184.1 L570.5,184.0 L571.5,183.9 L572.5,183.7 L573.5,183.6 L574.5,183.5 L575.5,183.5 L576.5,183.4 L577.5,183.3 L578.5,183.2 L579.5,183.2 L580.5,183.1 L581.5,183.0 L582.5,183.0 L583.5,182.9 L584.5,182.9 L585.5,182.9 L586.5,182.8 L587.5,182.8 L588.5,182.8 L589.5,182.7 L590.5,182.7 L591.5,182.7 L592.5,182.7 L593.5,182.6 L594.5,182.6 L595.5,182.6 L596.5,182.6" fill="none" stroke="#ff7f1e" stroke-width="0.9"/>
<path d="M455.3,298.6 L456.3,297.7 L457.3,296.8 L458.3,295.8 L459.3,294.7 L460.3,293.6 L461.3,292.4 L462.3,291.2 L463.3,289.9 L464.3,288.5 L465.3,287.0 L466.3,285.5 L467.3,283.9 L468.3,282.2 L469.3,280.4 L470.3,278.6 L471.3,276.7 L472.3,274.8 L473.3,272.7 L474.3,270.6 L475.3,268.5 L476.3,266.3 L477.3,264.0 L478.3,261.7 L479.3,259.3 L480.3,256.9 L481.3,254.5 L482.3,252.1 L483.3,249.6 L484.3,247.1 L485.3,244.7 L486.3,242.2 L487.3,239.8 L488.3,237.3 L489.3,234.9 L490.3,232.6 L491.3,230.2 L492.3,227.9 L493.3,225.7 L494.3,223.5 L495.3,221.4 L496.3,219.3 L497.3,217.3 L498.3,215.4 L499.3,213.6 L500.3,211.8 L501.3,210.1 L502.3,208.5 L503.3,206.9 L504.3,205.4 L505.3,204.0 L506.3,202.6 L507.3,201.4 L508.3,200.2 L509.3,199.0 L510.3,197.9 L511.3,196.9 L512.3,195.9 L513.3,195.0 L514.3,194.2 L515.3,193.4 L516.3,192.6 L517.3,191.9 L518.3,191.3 L519.3,190.7 L520.3,190.1 L521.3,189.6 L522.3,189.1 L523.3,188.6 L524.3,188.1 L525.3,187.7 L526.3,187.4 L527.3,187.0 L528.3,186.7 L529.3,186.4 L530.3,186.1 L531.3,185.8 L532.3,185.6 L533.3,185.3 L534.3,185.1 L535.3,184.9 L536.3,184.7 L537.3,184.6 L538.3,184.4 L539.3,184.3 L540.3,184.1 L541.3,184.0 L542.3,183.9 L543.3,183.8 L544.3,183.7 L545.3,183.6 L546.3,183.5 L547.3,183.4 L548.3,183.3 L549.3,183.3 L550.3,183.2 L551.3,183.1 L552.3,183.1 L553.3,183.0 L554.3,183.0 L555.3,183.0 L556.3,182.9 L557.3,182.9 L558.3,182.8 L559.3,182.8 L560.3,182.8 L561.3,182.7 L562.3,182.7 L563.3,182.7 L564.3,182.7 L565.3,182.7 L566.3,182.6 L567.3,182.6 L568.3,182.6 L569.3,182.6 L570.3,182.6 L571.3,182.6 L572.3,182.5 L573.3,182.5 L574.3,182.5 L575.3,182.5 L576.3,182.5 L577.3,182.5 L578.3,182.5 L579.3,182.5 L580.3,182.5 L581.3,182.5 L582.3,182.5 L583.3,182.5 L584.3,182.5 L585.3,182.5 L586.3,182.5 L587.3,182.4 L588.3,182.4 L589.3,182.4 L590.3,182.4 L591.3,182.4 L592.3,182.4 L593.3,182.4 L594.3,182.4 L595.3,182.4 L596.3,182.4" fill="none" stroke="#dc2a86" stroke-width="0.9"/>
<path d="M455.3,291.7 L456.3,290.2 L457.3,288.7 L458.3,287.0 L459.3,285.3 L460.3,283.5 L461.3,281.6 L462.3,279.5 L463.3,277.4 L464.3,275.2 L465.3,272.9 L466.3,270.6 L467.3,268.1 L468.3,265.6 L469.3,263.0 L470.3,260.4 L471.3,257.7 L472.3,255.0 L473.3,252.2 L474.3,249.4 L475.3,246.6 L476.3,243.9 L477.3,241.1 L478.3,238.3 L479.3,235.6 L480.3,232.9 L481.3,230.3 L482.3,227.7 L483.3,225.2 L484.3,222.7 L485.3,220.4 L486.3,218.1 L487.3,215.9 L488.3,213.8 L489.3,211.7 L490.3,209.8 L491.3,208.0 L492.3,206.3 L493.3,204.6 L494.3,203.1 L495.3,201.6 L496.3,200.2 L497.3,198.9 L498.3,197.7 L499.3,196.6 L500.3,195.5 L501.3,194.5 L502.3,193.6 L503.3,192.8 L504.3,192.0 L505.3,191.2 L506.3,190.5 L507.3,189.9 L508.3,189.3 L509.3,188.8 L510.3,188.2 L511.3,187.8 L512.3,187.3 L513.3,187.0 L514.3,186.6 L515.3,186.2 L516.3,185.9 L517.3,185.6 L518.3,185.4 L519.3,185.1 L520.3,184.9 L521.3,184.7 L522.3,184.5 L523.3,184.3 L524.3,184.2 L525.3,184.0 L526.3,183.9 L527.3,183.8 L528.3,183.7 L529.3,183.6 L530.3,183.5 L531.3,183.4 L532.3,183.3 L533.3,183.2 L534.3,183.2 L535.3,183.1 L536.3,183.0 L537.3,183.0 L538.3,182.9 L539.3,182.9 L540.3,182.8 L541.3,182.8 L542.3,182.8 L543.3,182.7 L544.3,182.7 L545.3,182.7 L546.3,182.7 L547.3,182.6 L548.3,182.6 L549.3,182.6 L550.3,182.6 L551.3,182.6 L552.3,182.6 L553.3,182.5 L554.3,182.5 L555.3,182.5 L556.3,182.5 L557.3,182.5 L558.3,182.5 L559.3,182.5 L560.3,182.5 L561.3,182.5 L562.3,182.5 L563.3,182.5 L564.3,182.5 L565.3,182.5 L566.3,182.4 L567.3,182.4 L568.3,182.4 L569.3,182.4 L570.3,182.4 L571.3,182.4 L572.3,182.4 L573.3,182.4 L574.3,182.4 L575.3,182.4 L576.3,182.4 L577.3,182.4 L578.3,182.4 L579.3,182.4 L580.3,182.4 L581.3,182.4 L582.3,182.4 L583.3,182.4 L584.3,182.4 L585.3,182.4 L586.3,182.4 L587.3,182.4 L588.3,182.4 L589.3,182.4 L590.3,182.4 L591.3,182.4 L592.3,182.4 L593.3,182.4 L594.3,182.4 L595.3,182.4 L596.3,182.4" fill="none" stroke="#a21ea6" stroke-width="0.9"/>
<path d="M455.3,290.5 L456.3,288.8 L457.3,286.9 L458.3,284.9 L459.3,282.7 L460.3,280.5 L461.3,278.1 L462.3,275.6 L463.3,273.0 L464.3,270.2 L465.3,267.4 L466.3,264.5 L467.3,261.5 L468.3,258.4 L469.3,255.3 L470.3,252.1 L471.3,248.9 L472.3,245.7 L473.3,242.5 L474.3,239.3 L475.3,236.1 L476.3,233.0 L477.3,230.0 L478.3,227.1 L479.3,224.2 L480.3,221.4 L481.3,218.8 L482.3,216.2 L483.3,213.8 L484.3,211.5 L485.3,209.3 L486.3,207.2 L487.3,205.3 L488.3,203.5 L489.3,201.8 L490.3,200.2 L491.3,198.7 L492.3,197.3 L493.3,196.0 L494.3,194.9 L495.3,193.8 L496.3,192.8 L497.3,191.9 L498.3,191.0 L499.3,190.3 L500.3,189.6 L501.3,188.9 L502.3,188.3 L503.3,187.8 L504.3,187.3 L505.3,186.8 L506.3,186.4 L507.3,186.1 L508.3,185.7 L509.3,185.4 L510.3,185.1 L511.3,184.9 L512.3,184.6 L513.3,184.4 L514.3,184.2 L515.3,184.1 L516.3,183.9 L517.3,183.8 L518.3,183.6 L519.3,183.5 L520.3,183.4 L521.3,183.3 L522.3,183.2 L523.3,183.2 L524.3,183.1 L525.3,183.0 L526.3,183.0 L527.3,182.9 L528.3,182.9 L529.3,182.8 L530.3,182.8 L531.3,182.7 L532.3,182.7 L533.3,182.7 L534.3,182.7 L535.3,182.6 L536.3,182.6 L537.3,182.6 L538.3,182.6 L539.3,182.6 L540.3,182.5 L541.3,182.5 L542.3,182.5 L543.3,182.5 L544.3,182.5 L545.3,182.5 L546.3,182.5 L547.3,182.5 L548.3,182.5 L549.3,182.5 L550.3,182.5 L551.3,182.4 L552.3,182.4 L553.3,182.4 L554.3,182.4 L555.3,182.4 L556.3,182.4 L557.3,182.4 L558.3,182.4 L559.3,182.4 L560.3,182.4 L561.3,182.4 L562.3,182.4 L563.3,182.4 L564.3,182.4 L565.3,182.4 L566.3,182.4 L567.3,182.4 L568.3,182.4 L569.3,182.4 L570.3,182.4 L571.3,182.4 L572.3,182.4 L573.3,182.4 L574.3,182.4 L575.3,182.4 L576.3,182.4 L577.3,182.4 L578.3,182.4 L579.3,182.4 L580.3,182.4 L581.3,182.4 L582.3,182.4 L583.3,182.4 L584.3,182.4 L585.3,182.4 L586.3,182.4 L587.3,182.4 L588.3,182.4 L589.3,182.4 L590.3,182.4 L591.3,182.4 L592.3,182.4 L593.3,182.4 L594.3,182.4 L595.3,182.4 L596.3,182.4" fill="none" stroke="#2a3af0" stroke-width="0.9"/>
<path d="M515,259.8 V273.8 M512.7,259.8 H517.3 M512.7,273.8 H517.3" stroke="#222" stroke-width="0.85" fill="none"/>
<path d="M546.4,203.5 V212.5 M544.1,203.5 H548.6999999999999 M544.1,212.5 H548.6999999999999" stroke="#222" stroke-width="0.85" fill="none"/>
<circle cx="501.3" cy="284.3" r="2.6" fill="#000"/>
<circle cx="515" cy="270.8" r="2.6" fill="#000"/>
<circle cx="519.2" cy="268.8" r="2.6" fill="#000"/>
<circle cx="533.2" cy="232.6" r="2.6" fill="#000"/>
<circle cx="546.4" cy="203.5" r="2.6" fill="#000"/>
<circle cx="561" cy="193.2" r="2.6" fill="#000"/>
<path d="M501.3,297.8 V301.8 M499.0,297.8 H503.6 M499.0,301.8 H503.6" stroke="#c4a066" stroke-width="0.85" fill="none"/>
<path d="M515,274.3 V297.8 M512.7,274.3 H517.3 M512.7,297.8 H517.3" stroke="#c4a066" stroke-width="0.85" fill="none"/>
<rect x="498.7" y="297.2" width="5.2" height="5.2" fill="#a8792f"/>
<rect x="512.4" y="281.7" width="5.2" height="5.2" fill="#a8792f"/>
<rect x="516.6" y="280.2" width="5.2" height="5.2" fill="#a8792f"/>
<rect x="530.8" y="232.4" width="5.2" height="5.2" fill="#a8792f"/>
<rect x="543.8" y="200.5" width="5.2" height="5.2" fill="#a8792f"/>
<rect x="594.2" y="179.7" width="5.2" height="5.2" fill="#a8792f"/>
<path d="M501.3,275.6 V282.0 M499.0,275.6 H503.6 M499.0,282.0 H503.6" stroke="#ff9a4a" stroke-width="0.85" fill="none"/>
<path d="M515,238.3 V267.3 M512.7,238.3 H517.3 M512.7,267.3 H517.3" stroke="#ff9a4a" stroke-width="0.85" fill="none"/>
<path d="M547,184.9 V200.1 M544.7,184.9 H549.3 M544.7,200.1 H549.3" stroke="#ff9a4a" stroke-width="0.85" fill="none"/>
<path d="M501.3,275.9 L504.0,278.8 L501.3,281.7 L498.6,278.8 Z" fill="#ff7f1e"/>
<path d="M515,249.9 L517.7,252.8 L515,255.7 L512.3,252.8 Z" fill="#ff7f1e"/>
<path d="M519.4,240.7 L522.1,243.6 L519.4,246.5 L516.7,243.6 Z" fill="#ff7f1e"/>
<path d="M533.3,206.4 L536.0,209.3 L533.3,212.2 L530.6,209.3 Z" fill="#ff7f1e"/>
<path d="M547,189.6 L549.7,192.5 L547,195.4 L544.3,192.5 Z" fill="#ff7f1e"/>
<path d="M561,182.3 L563.7,185.2 L561,188.1 L558.3,185.2 Z" fill="#ff7f1e"/>
<path d="M596.8,179.3 L599.5,182.2 L596.8,185.1 L594.1,182.2 Z" fill="#ff7f1e"/>
<path d="M469.4,275.5 V291.5 M467.09999999999997,275.5 H471.7 M467.09999999999997,291.5 H471.7" stroke="#b8935a" stroke-width="0.85" fill="none"/>
<path d="M473.6,261.4 V280.2 M471.3,261.4 H475.90000000000003 M471.3,280.2 H475.90000000000003" stroke="#b8935a" stroke-width="0.85" fill="none"/>
<path d="M487.7,229.9 V246.9 M485.4,229.9 H490.0 M485.4,246.9 H490.0" stroke="#b8935a" stroke-width="0.85" fill="none"/>
<path d="M501.5,199.4 V223.4 M499.2,199.4 H503.8 M499.2,223.4 H503.8" stroke="#b8935a" stroke-width="0.85" fill="none"/>
<path d="M514.9,188.8 V200.2 M512.6,188.8 H517.1999999999999 M512.6,200.2 H517.1999999999999" stroke="#b8935a" stroke-width="0.85" fill="none"/>
<path d="M455.3,300.0 L458.1,294.9 L452.5,294.9 Z" fill="#b840c4"/>
<path d="M469.4,286.3 L472.2,281.2 L466.6,281.2 Z" fill="#b840c4"/>
<path d="M473.6,273.6 L476.4,268.5 L470.8,268.5 Z" fill="#b840c4"/>
<path d="M487.7,241.2 L490.5,236.1 L484.9,236.1 Z" fill="#b840c4"/>
<path d="M501.5,214.2 L504.3,209.1 L498.7,209.1 Z" fill="#b840c4"/>
<path d="M514.9,193.1 L517.7,188.0 L512.1,188.0 Z" fill="#b840c4"/>
<path d="M519.4,197.1 L522.2,192.0 L516.6,192.0 Z" fill="#b840c4"/>
<path d="M533.4,186.3 L535.4,182.8 L531.4,182.8 Z" fill="#b840c4"/>
<path d="M487.7,209.7 V224.9 M485.4,209.7 H490.0 M485.4,224.9 H490.0" stroke="#c4146e" stroke-width="0.85" fill="none"/>
<path d="M455.3,288.5 L458.1,293.6 L452.5,293.6 Z" fill="#c4146e"/>
<path d="M469.4,259.6 L472.2,264.7 L466.6,264.7 Z" fill="#c4146e"/>
<path d="M473.6,248.5 L476.4,253.6 L470.8,253.6 Z" fill="#c4146e"/>
<path d="M487.7,214.5 L490.5,219.6 L484.9,219.6 Z" fill="#c4146e"/>
<path d="M501.5,194.5 L504.3,199.6 L498.7,199.6 Z" fill="#c4146e"/>
<path d="M514.8,185.8 L517.6,190.9 L512.0,190.9 Z" fill="#c4146e"/>
<path d="M520.1,185.0 L522.9,190.1 L517.3,190.1 Z" fill="#c4146e"/>
<path d="M455.3,292.1 V295.1 M453.0,292.1 H457.6 M453.0,295.1 H457.6" stroke="#7a52d0" stroke-width="0.85" fill="none"/>
<path d="M469.4,254.5 V260.9 M467.09999999999997,254.5 H471.7 M467.09999999999997,260.9 H471.7" stroke="#7a52d0" stroke-width="0.85" fill="none"/>
<path d="M473.6,235.8 V244.8 M471.3,235.8 H475.90000000000003 M471.3,244.8 H475.90000000000003" stroke="#7a52d0" stroke-width="0.85" fill="none"/>
<path d="M487.7,205.5 V214.1 M485.4,205.5 H490.0 M485.4,214.1 H490.0" stroke="#7a52d0" stroke-width="0.85" fill="none"/>
<path d="M501.2,183.9 V191.9 M498.9,183.9 H503.5 M498.9,191.9 H503.5" stroke="#7a52d0" stroke-width="0.85" fill="none"/>
<circle cx="455.3" cy="293.6" r="2.6" fill="#6a3ec6"/>
<circle cx="469.4" cy="257.7" r="2.6" fill="#6a3ec6"/>
<circle cx="473.6" cy="240.3" r="2.6" fill="#6a3ec6"/>
<circle cx="487.7" cy="209.8" r="2.6" fill="#6a3ec6"/>
<circle cx="501.2" cy="187.9" r="2.6" fill="#6a3ec6"/>
<rect x="594.2" y="179.7" width="5.2" height="5.2" fill="#a8792f"/>
<line x1="595.1" y1="207.0" x2="608.7" y2="207.0" stroke="#a8792f" stroke-width="0.9"/>
<rect x="599.3" y="204.5" width="5.0" height="5.0" fill="#a8792f"/>
<text class="lg" x="616.4" y="210.6">HI</text>
<line x1="595.1" y1="222.9" x2="608.7" y2="222.9" stroke="#000" stroke-width="0.9"/>
<circle cx="601.8" cy="222.9" r="2.5" fill="#000"/>
<text class="lg" x="616.4" y="226.5">B16H</text>
<line x1="595.1" y1="238.8" x2="608.7" y2="238.8" stroke="#ff7f1e" stroke-width="0.9"/>
<path d="M601.8,235.9 L604.5,238.8 L601.8,241.7 L599.1,238.8 Z" fill="#ff7f1e"/>
<text class="lg" x="616.4" y="242.4">B25H</text>
<line x1="595.1" y1="254.7" x2="608.7" y2="254.7" stroke="#dc2a86" stroke-width="0.9"/>
<path d="M601.8,257.5 L604.6,252.4 L599.0,252.4 Z" fill="#b840c4"/>
<text class="lg" x="616.4" y="258.3">A14E, desB30</text>
<line x1="595.1" y1="270.6" x2="608.7" y2="270.6" stroke="#a21ea6" stroke-width="0.9"/>
<path d="M601.8,267.8 L604.6,272.9 L599.0,272.9 Z" fill="#c4146e"/>
<text class="lg" x="616.4" y="274.2">A14E, B25H</text>
<line x1="595.1" y1="286.5" x2="608.7" y2="286.5" stroke="#2a3af0" stroke-width="0.9"/>
<circle cx="601.8" cy="286.5" r="2.5" fill="#6a3ec6"/>
<text class="lg" x="616.4" y="290.1">Insulin icodec</text>
<line x1="49.8" y1="431.4" x2="49.8" y2="568.2" stroke="#000" stroke-width="1.2"/>
<line x1="49.199999999999996" y1="567.6" x2="217.8" y2="567.6" stroke="#000" stroke-width="1.2"/>
<line x1="46.099999999999994" y1="567.6" x2="49.8" y2="567.6" stroke="#000" stroke-width="1.1"/>
<line x1="47.5" y1="555.2" x2="49.8" y2="555.2" stroke="#000" stroke-width="1.1"/>
<line x1="46.099999999999994" y1="542.8" x2="49.8" y2="542.8" stroke="#000" stroke-width="1.1"/>
<line x1="47.5" y1="530.5" x2="49.8" y2="530.5" stroke="#000" stroke-width="1.1"/>
<line x1="46.099999999999994" y1="518.1" x2="49.8" y2="518.1" stroke="#000" stroke-width="1.1"/>
<line x1="47.5" y1="505.7" x2="49.8" y2="505.7" stroke="#000" stroke-width="1.1"/>
<line x1="46.099999999999994" y1="493.3" x2="49.8" y2="493.3" stroke="#000" stroke-width="1.1"/>
<line x1="47.5" y1="480.9" x2="49.8" y2="480.9" stroke="#000" stroke-width="1.1"/>
<line x1="46.099999999999994" y1="468.6" x2="49.8" y2="468.6" stroke="#000" stroke-width="1.1"/>
<line x1="47.5" y1="456.2" x2="49.8" y2="456.2" stroke="#000" stroke-width="1.1"/>
<line x1="46.099999999999994" y1="443.8" x2="49.8" y2="443.8" stroke="#000" stroke-width="1.1"/>
<text class="bt" x="45.5" y="570.7" text-anchor="end" style="font-size:8.8px">0</text>
<text class="bt" x="45.5" y="545.9" text-anchor="end" style="font-size:8.8px">20</text>
<text class="bt" x="45.5" y="521.2" text-anchor="end" style="font-size:8.8px">40</text>
<text class="bt" x="45.5" y="496.4" text-anchor="end" style="font-size:8.8px">60</text>
<text class="bt" x="45.5" y="471.7" text-anchor="end" style="font-size:8.8px">80</text>
<text class="bt" x="45.5" y="446.9" text-anchor="end" style="font-size:8.8px">100</text>
<line x1="49.8" y1="567.6" x2="49.8" y2="571.8000000000001" stroke="#000" stroke-width="1.1"/>
<text class="bt" x="49.8" y="581.3" text-anchor="middle" style="font-size:8.8px">0</text>
<line x1="70.0" y1="567.6" x2="70.0" y2="571.8000000000001" stroke="#000" stroke-width="1.1"/>
<text class="bt" x="70.0" y="581.3" text-anchor="middle" style="font-size:8.8px">1</text>
<line x1="90.3" y1="567.6" x2="90.3" y2="571.8000000000001" stroke="#000" stroke-width="1.1"/>
<text class="bt" x="90.3" y="581.3" text-anchor="middle" style="font-size:8.8px">2</text>
<line x1="110.5" y1="567.6" x2="110.5" y2="571.8000000000001" stroke="#000" stroke-width="1.1"/>
<text class="bt" x="110.5" y="581.3" text-anchor="middle" style="font-size:8.8px">3</text>
<line x1="130.8" y1="567.6" x2="130.8" y2="571.8000000000001" stroke="#000" stroke-width="1.1"/>
<text class="bt" x="130.8" y="581.3" text-anchor="middle" style="font-size:8.8px">4</text>
<line x1="151.0" y1="567.6" x2="151.0" y2="571.8000000000001" stroke="#000" stroke-width="1.1"/>
<text class="bt" x="151.0" y="581.3" text-anchor="middle" style="font-size:8.8px">5</text>
<line x1="171.2" y1="567.6" x2="171.2" y2="571.8000000000001" stroke="#000" stroke-width="1.1"/>
<text class="bt" x="171.2" y="581.3" text-anchor="middle" style="font-size:8.8px">6</text>
<line x1="191.5" y1="567.6" x2="191.5" y2="571.8000000000001" stroke="#000" stroke-width="1.1"/>
<text class="bt" x="191.5" y="581.3" text-anchor="middle" style="font-size:8.8px">7</text>
<line x1="211.7" y1="567.6" x2="211.7" y2="571.8000000000001" stroke="#000" stroke-width="1.1"/>
<text class="bt" x="211.7" y="581.3" text-anchor="middle" style="font-size:8.8px">8</text>
<text class="bl" x="134.6" y="594.0" text-anchor="middle" style="font-size:9.8px" textLength="45" lengthAdjust="spacingAndGlyphs">GuHCl (M)</text>
<text class="bl" transform="translate(15.2,499)  rotate(-90)" text-anchor="middle" style="font-size:9.7px" textLength="52.3" lengthAdjust="spacingAndGlyphs">% unfolding</text>
<line x1="49.8" y1="505.7" x2="217" y2="505.7" stroke="#000" stroke-width="1.1" stroke-dasharray="1.25,2.15"/>
<path d="M49.8,567.6 L57.7,564.6 L65.6,563.9 L73.5,565.1 L81.5,565.1 L89.4,565.7 L97.3,565.1 L105.2,560.2 L113.1,562.6 L121.0,560.8 L128.9,554.0 L136.9,545.9 L144.8,537.1 L152.7,523.8 L160.6,508.9 L168.5,491.2 L176.4,477.8 L184.4,465.5 L192.3,462.4 L200.2,452.5 L208.1,447.5 L216.0,443.8" fill="none" stroke="#1c2cf0" stroke-width="1.45" stroke-linejoin="round"/>
<circle cx="49.8" cy="567.6" r="2.0" fill="#1c2cf0"/>
<circle cx="57.7" cy="564.6" r="2.0" fill="#1c2cf0"/>
<circle cx="65.6" cy="563.9" r="2.0" fill="#1c2cf0"/>
<circle cx="73.5" cy="565.1" r="2.0" fill="#1c2cf0"/>
<circle cx="81.5" cy="565.1" r="2.0" fill="#1c2cf0"/>
<circle cx="89.4" cy="565.7" r="2.0" fill="#1c2cf0"/>
<circle cx="97.3" cy="565.1" r="2.0" fill="#1c2cf0"/>
<circle cx="105.2" cy="560.2" r="2.0" fill="#1c2cf0"/>
<circle cx="113.1" cy="562.6" r="2.0" fill="#1c2cf0"/>
<circle cx="121.0" cy="560.8" r="2.0" fill="#1c2cf0"/>
<circle cx="128.9" cy="554.0" r="2.0" fill="#1c2cf0"/>
<circle cx="136.9" cy="545.9" r="2.0" fill="#1c2cf0"/>
<circle cx="144.8" cy="537.1" r="2.0" fill="#1c2cf0"/>
<circle cx="152.7" cy="523.8" r="2.0" fill="#1c2cf0"/>
<circle cx="160.6" cy="508.9" r="2.0" fill="#1c2cf0"/>
<circle cx="168.5" cy="491.2" r="2.0" fill="#1c2cf0"/>
<circle cx="176.4" cy="477.8" r="2.0" fill="#1c2cf0"/>
<circle cx="184.4" cy="465.5" r="2.0" fill="#1c2cf0"/>
<circle cx="192.3" cy="462.4" r="2.0" fill="#1c2cf0"/>
<circle cx="200.2" cy="452.5" r="2.0" fill="#1c2cf0"/>
<circle cx="208.1" cy="447.5" r="2.0" fill="#1c2cf0"/>
<circle cx="216.0" cy="443.8" r="2.0" fill="#1c2cf0"/>
<path d="M49.8,564.4 L57.7,566.7 L65.6,565.9 L73.5,568.2 L81.5,567.4 L89.4,565.9 L97.3,565.2 L105.2,563.1 L113.1,558.9 L121.0,556.5 L128.9,541.6 L136.9,534.2 L144.8,517.3 L152.7,504.5 L160.6,490.2 L168.5,478.5 L176.4,467.9 L184.4,460.5 L192.3,454.3 L200.2,449.4 L208.1,446.3 L216.0,443.8" fill="none" stroke="#ff4fd2" stroke-width="1.3" stroke-linejoin="round"/>
<path d="M49.8,562.5 L51.7,565.8 L47.9,565.8 Z" fill="#ff4fd2"/>
<path d="M57.7,564.8 L59.6,568.1 L55.8,568.1 Z" fill="#ff4fd2"/>
<path d="M65.6,564.0 L67.5,567.3 L63.7,567.3 Z" fill="#ff4fd2"/>
<path d="M73.5,566.3 L75.4,569.6 L71.6,569.6 Z" fill="#ff4fd2"/>
<path d="M81.5,565.5 L83.4,568.8 L79.6,568.8 Z" fill="#ff4fd2"/>
<path d="M89.4,564.0 L91.3,567.3 L87.5,567.3 Z" fill="#ff4fd2"/>
<path d="M97.3,563.3 L99.2,566.6 L95.4,566.6 Z" fill="#ff4fd2"/>
<path d="M105.2,561.2 L107.1,564.5 L103.3,564.5 Z" fill="#ff4fd2"/>
<path d="M113.1,557.0 L115.0,560.3 L111.2,560.3 Z" fill="#ff4fd2"/>
<path d="M121.0,554.6 L122.9,557.9 L119.1,557.9 Z" fill="#ff4fd2"/>
<path d="M128.9,539.7 L130.8,543.0 L127.0,543.0 Z" fill="#ff4fd2"/>
<path d="M136.9,532.3 L138.8,535.6 L135.0,535.6 Z" fill="#ff4fd2"/>
<path d="M144.8,515.4 L146.7,518.7 L142.9,518.7 Z" fill="#ff4fd2"/>
<path d="M152.7,502.6 L154.6,505.9 L150.8,505.9 Z" fill="#ff4fd2"/>
<path d="M160.6,488.3 L162.5,491.6 L158.7,491.6 Z" fill="#ff4fd2"/>
<path d="M168.5,476.6 L170.4,479.9 L166.6,479.9 Z" fill="#ff4fd2"/>
<path d="M176.4,466.0 L178.3,469.3 L174.5,469.3 Z" fill="#ff4fd2"/>
<path d="M184.4,458.6 L186.3,461.9 L182.5,461.9 Z" fill="#ff4fd2"/>
<path d="M192.3,452.4 L194.2,455.7 L190.4,455.7 Z" fill="#ff4fd2"/>
<path d="M200.2,447.5 L202.1,450.8 L198.3,450.8 Z" fill="#ff4fd2"/>
<path d="M208.1,444.4 L210.0,447.7 L206.2,447.7 Z" fill="#ff4fd2"/>
<path d="M216.0,441.9 L217.9,445.2 L214.1,445.2 Z" fill="#ff4fd2"/>
<path d="M49.8,565.1 L57.7,557.7 L65.6,561.4 L73.5,563.9 L81.5,561.4 L89.4,560.2 L97.3,557.7 L105.2,556.5 L113.1,551.5 L121.0,547.8 L128.9,535.4 L136.9,528.0 L144.8,514.4 L152.7,502.0 L160.6,489.6 L168.5,478.5 L176.4,467.3 L184.4,459.9 L192.3,453.7 L200.2,448.8 L208.1,446.3 L216.0,443.8" fill="none" stroke="#c4147e" stroke-width="1.45" stroke-linejoin="round"/>
<path d="M49.8,563.1 L51.8,566.6 L47.8,566.6 Z" fill="#c4147e"/>
<path d="M57.7,555.7 L59.7,559.2 L55.7,559.2 Z" fill="#c4147e"/>
<path d="M65.6,559.4 L67.6,562.9 L63.6,562.9 Z" fill="#c4147e"/>
<path d="M73.5,561.9 L75.5,565.4 L71.5,565.4 Z" fill="#c4147e"/>
<path d="M81.5,559.4 L83.5,562.9 L79.5,562.9 Z" fill="#c4147e"/>
<path d="M89.4,558.2 L91.4,561.7 L87.4,561.7 Z" fill="#c4147e"/>
<path d="M97.3,555.7 L99.3,559.2 L95.3,559.2 Z" fill="#c4147e"/>
<path d="M105.2,554.5 L107.2,558.0 L103.2,558.0 Z" fill="#c4147e"/>
<path d="M113.1,549.5 L115.1,553.0 L111.1,553.0 Z" fill="#c4147e"/>
<path d="M121.0,545.8 L123.0,549.3 L119.0,549.3 Z" fill="#c4147e"/>
<path d="M128.9,533.4 L130.9,536.9 L126.9,536.9 Z" fill="#c4147e"/>
<path d="M136.9,526.0 L138.9,529.5 L134.9,529.5 Z" fill="#c4147e"/>
<path d="M144.8,512.4 L146.8,515.9 L142.8,515.9 Z" fill="#c4147e"/>
<path d="M152.7,500.0 L154.7,503.5 L150.7,503.5 Z" fill="#c4147e"/>
<path d="M160.6,487.6 L162.6,491.1 L158.6,491.1 Z" fill="#c4147e"/>
<path d="M168.5,476.5 L170.5,480.0 L166.5,480.0 Z" fill="#c4147e"/>
<path d="M176.4,465.3 L178.4,468.8 L174.4,468.8 Z" fill="#c4147e"/>
<path d="M184.4,457.9 L186.4,461.4 L182.4,461.4 Z" fill="#c4147e"/>
<path d="M192.3,451.7 L194.3,455.2 L190.3,455.2 Z" fill="#c4147e"/>
<path d="M200.2,446.8 L202.2,450.3 L198.2,450.3 Z" fill="#c4147e"/>
<path d="M208.1,444.3 L210.1,447.8 L206.1,447.8 Z" fill="#c4147e"/>
<path d="M216.0,441.8 L218.0,445.3 L214.0,445.3 Z" fill="#c4147e"/>
<path d="M49.8,566.6 L57.7,564.4 L65.6,562.9 L73.5,564.4 L81.5,563.8 L89.4,562.3 L97.3,559.3 L105.2,557.0 L113.1,551.9 L121.0,548.0 L128.9,537.1 L136.9,528.9 L144.8,514.9 L152.7,500.7 L160.6,489.6 L168.5,478.5 L176.4,467.3 L184.4,459.9 L192.3,453.7 L200.2,448.8 L208.1,446.3 L216.0,443.8" fill="none" stroke="#a21ed2" stroke-width="1.15" stroke-linejoin="round"/>
<path d="M49.8,568.6 L51.8,565.1 L47.8,565.1 Z" fill="#a21ed2"/>
<path d="M57.7,566.4 L59.7,562.9 L55.7,562.9 Z" fill="#a21ed2"/>
<path d="M65.6,564.9 L67.6,561.4 L63.6,561.4 Z" fill="#a21ed2"/>
<path d="M73.5,566.4 L75.5,562.9 L71.5,562.9 Z" fill="#a21ed2"/>
<path d="M81.5,565.8 L83.5,562.3 L79.5,562.3 Z" fill="#a21ed2"/>
<path d="M89.4,564.3 L91.4,560.8 L87.4,560.8 Z" fill="#a21ed2"/>
<path d="M97.3,561.3 L99.3,557.8 L95.3,557.8 Z" fill="#a21ed2"/>
<path d="M105.2,559.0 L107.2,555.5 L103.2,555.5 Z" fill="#a21ed2"/>
<path d="M113.1,553.9 L115.1,550.4 L111.1,550.4 Z" fill="#a21ed2"/>
<path d="M121.0,550.0 L123.0,546.5 L119.0,546.5 Z" fill="#a21ed2"/>
<path d="M128.9,539.1 L130.9,535.6 L126.9,535.6 Z" fill="#a21ed2"/>
<path d="M136.9,530.9 L138.9,527.4 L134.9,527.4 Z" fill="#a21ed2"/>
<path d="M144.8,516.9 L146.8,513.4 L142.8,513.4 Z" fill="#a21ed2"/>
<path d="M152.7,502.7 L154.7,499.2 L150.7,499.2 Z" fill="#a21ed2"/>
<path d="M160.6,491.6 L162.6,488.1 L158.6,488.1 Z" fill="#a21ed2"/>
<path d="M168.5,480.5 L170.5,477.0 L166.5,477.0 Z" fill="#a21ed2"/>
<path d="M176.4,469.3 L178.4,465.8 L174.4,465.8 Z" fill="#a21ed2"/>
<path d="M184.4,461.9 L186.4,458.4 L182.4,458.4 Z" fill="#a21ed2"/>
<path d="M192.3,455.7 L194.3,452.2 L190.3,452.2 Z" fill="#a21ed2"/>
<path d="M200.2,450.8 L202.2,447.3 L198.2,447.3 Z" fill="#a21ed2"/>
<path d="M208.1,448.3 L210.1,444.8 L206.1,444.8 Z" fill="#a21ed2"/>
<path d="M216.0,445.8 L218.0,442.3 L214.0,442.3 Z" fill="#a21ed2"/>
<path d="M49.8,567.6 L57.7,566.1 L65.6,564.6 L73.5,563.8 L81.5,561.4 L89.4,559.3 L97.3,556.3 L105.2,551.3 L113.1,545.1 L121.0,535.7 L128.9,520.2 L136.9,514.4 L144.8,499.5 L152.7,488.9 L160.6,475.7 L168.5,467.4 L176.4,460.1 L184.4,454.8 L192.3,450.6 L200.2,447.6 L208.1,445.3 L216.0,443.8" fill="none" stroke="#a8792f" stroke-width="1.45" stroke-linejoin="round"/>
<rect x="47.8" y="565.6" width="3.9" height="3.9" fill="#a8792f"/>
<rect x="55.8" y="564.1" width="3.9" height="3.9" fill="#a8792f"/>
<rect x="63.6" y="562.6" width="3.9" height="3.9" fill="#a8792f"/>
<rect x="71.5" y="561.8" width="3.9" height="3.9" fill="#a8792f"/>
<rect x="79.5" y="559.4" width="3.9" height="3.9" fill="#a8792f"/>
<rect x="87.5" y="557.3" width="3.9" height="3.9" fill="#a8792f"/>
<rect x="95.3" y="554.3" width="3.9" height="3.9" fill="#a8792f"/>
<rect x="103.2" y="549.3" width="3.9" height="3.9" fill="#a8792f"/>
<rect x="111.1" y="543.1" width="3.9" height="3.9" fill="#a8792f"/>
<rect x="119.0" y="533.8" width="3.9" height="3.9" fill="#a8792f"/>
<rect x="127.0" y="518.2" width="3.9" height="3.9" fill="#a8792f"/>
<rect x="135.0" y="512.4" width="3.9" height="3.9" fill="#a8792f"/>
<rect x="142.9" y="497.6" width="3.9" height="3.9" fill="#a8792f"/>
<rect x="150.8" y="486.9" width="3.9" height="3.9" fill="#a8792f"/>
<rect x="158.7" y="473.8" width="3.9" height="3.9" fill="#a8792f"/>
<rect x="166.6" y="465.4" width="3.9" height="3.9" fill="#a8792f"/>
<rect x="174.5" y="458.2" width="3.9" height="3.9" fill="#a8792f"/>
<rect x="182.5" y="452.9" width="3.9" height="3.9" fill="#a8792f"/>
<rect x="190.4" y="448.7" width="3.9" height="3.9" fill="#a8792f"/>
<rect x="198.2" y="445.7" width="3.9" height="3.9" fill="#a8792f"/>
<rect x="206.2" y="443.4" width="3.9" height="3.9" fill="#a8792f"/>
<rect x="214.1" y="441.9" width="3.9" height="3.9" fill="#a8792f"/>
<line x1="243.8" y1="438.4" x2="255.9" y2="438.4" stroke="#a8792f" stroke-width="1.1"/>
<rect x="248.3" y="436.9" width="3.0" height="3.0" fill="#a8792f"/>
<text class="lg" x="262.6" y="441.7" style="font-size:9.15px">HI</text>
<line x1="243.8" y1="453.5" x2="255.9" y2="453.5" stroke="#a21ed2" stroke-width="1.1"/>
<path d="M249.8,455.3 L251.6,452.2 L248.0,452.2 Z" fill="#a21ed2"/>
<text class="lg" x="262.6" y="456.8" style="font-size:9.15px">A14E, desB30</text>
<line x1="243.8" y1="468.6" x2="255.9" y2="468.6" stroke="#c4147e" stroke-width="1.1"/>
<path d="M249.8,466.8 L251.6,469.9 L248.0,469.9 Z" fill="#c4147e"/>
<text class="lg" x="262.6" y="471.9" style="font-size:9.15px">A14E, B25H</text>
<line x1="243.8" y1="483.8" x2="255.9" y2="483.8" stroke="#ff4fd2" stroke-width="1.1"/>
<path d="M249.8,482.0 L251.6,485.1 L248.0,485.1 Z" fill="#ff4fd2"/>
<text class="lg" x="262.6" y="487.1" style="font-size:9.15px">A14E, B16H, B25H</text>
<line x1="243.8" y1="498.9" x2="255.9" y2="498.9" stroke="#1c2cf0" stroke-width="1.1"/>
<circle cx="249.8" cy="498.9" r="1.5" fill="#1c2cf0"/>
<text class="lg" x="262.6" y="502.2" style="font-size:9.15px">Insulin icodec</text>
</svg></body></html>
